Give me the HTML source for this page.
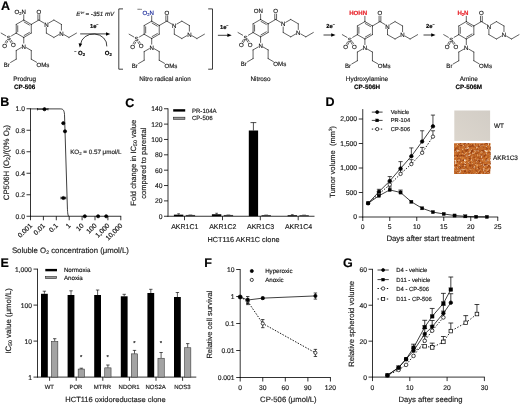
<!DOCTYPE html>
<html lang="en">
<head>
<meta charset="utf-8">
<title>CP-506 figure</title>
<style>
html,body{margin:0;padding:0;background:#fff;}
body{width:520px;height:404px;overflow:hidden;}
svg{display:block;text-rendering:geometricPrecision;font-family:"Liberation Sans",sans-serif;}
</style>
</head>
<body>
<svg width="520" height="404" viewBox="0 0 520 404">
<defs>
<linearGradient id="wtg" x1="1" y1="0" x2="0" y2="1"><stop offset="0" stop-color="#d2cdc6"/><stop offset="1" stop-color="#dcd6cd"/></linearGradient>
<filter id="ihc" x="0" y="0" width="100%" height="100%" color-interpolation-filters="sRGB">
<feTurbulence type="fractalNoise" baseFrequency="0.42" numOctaves="3" seed="11" result="n"/>
<feColorMatrix in="n" type="matrix" values="0 0 0 0 0.97  0 0 0 0 0.90  0 0 0 0 0.82  3.2 0 0 0 -1.8" result="lt"/>
<feColorMatrix in="n" type="matrix" values="0 0 0 0 0.58  0 0 0 0 0.24  0 0 0 0 0.07  0 3.0 0 0 -1.3" result="dk"/>
<feColorMatrix in="n" type="matrix" values="0 0 0 0 0.85  0 0 0 0 0.52  0 0 0 0 0.22  0 0 3 0 -1.35" result="md"/>
<feMerge><feMergeNode in="SourceGraphic"/><feMergeNode in="md"/><feMergeNode in="dk"/><feMergeNode in="lt"/></feMerge>
</filter>
</defs>
<rect x="0" y="0" width="520" height="404" fill="#ffffff"/>
<text x="0.9" y="9.57" font-size="12.5" text-anchor="start" fill="#000" stroke="#000" stroke-width="0.16" font-weight="bold">A</text>
<line x1="23.75" y1="20.05" x2="31.28" y2="24.4" stroke="#000" stroke-width="0.62" stroke-linecap="round"/>
<line x1="31.28" y1="24.4" x2="31.28" y2="33.1" stroke="#000" stroke-width="0.62" stroke-linecap="round"/>
<line x1="31.28" y1="33.1" x2="23.75" y2="37.45" stroke="#000" stroke-width="0.62" stroke-linecap="round"/>
<line x1="23.75" y1="37.45" x2="16.22" y2="33.1" stroke="#000" stroke-width="0.62" stroke-linecap="round"/>
<line x1="16.22" y1="33.1" x2="16.22" y2="24.4" stroke="#000" stroke-width="0.62" stroke-linecap="round"/>
<line x1="16.22" y1="24.4" x2="23.75" y2="20.05" stroke="#000" stroke-width="0.62" stroke-linecap="round"/>
<line x1="24.13" y1="22" x2="29.41" y2="25.05" stroke="#000" stroke-width="0.62" stroke-linecap="round"/>
<line x1="29.41" y1="32.45" x2="24.13" y2="35.5" stroke="#000" stroke-width="0.62" stroke-linecap="round"/>
<line x1="17.72" y1="31.8" x2="17.72" y2="25.7" stroke="#000" stroke-width="0.62" stroke-linecap="round"/>
<line x1="23.75" y1="20.05" x2="23.75" y2="14.75" stroke="#000" stroke-width="0.62" stroke-linecap="round"/>
<text x="25.95" y="13.83" font-size="6.1" text-anchor="end" fill="#1a1a1a" stroke="#1a1a1a" stroke-width="0.16">O<tspan font-size="4.15" baseline-shift="-0.98">2</tspan>N</text>
<line x1="31.28" y1="24.4" x2="38.82" y2="20.05" stroke="#000" stroke-width="0.62" stroke-linecap="round"/>
<line x1="37.92" y1="20.05" x2="37.92" y2="14.65" stroke="#000" stroke-width="0.62" stroke-linecap="round"/>
<line x1="39.72" y1="20.05" x2="39.72" y2="14.65" stroke="#000" stroke-width="0.62" stroke-linecap="round"/>
<text x="38.82" y="13.73" font-size="6.1" text-anchor="middle" fill="#1a1a1a" stroke="#1a1a1a" stroke-width="0.16">O</text>
<line x1="38.82" y1="20.05" x2="43.84" y2="22.95" stroke="#000" stroke-width="0.62" stroke-linecap="round"/>
<text x="46.35" y="27.08" font-size="6.1" text-anchor="middle" fill="#1a1a1a" stroke="#1a1a1a" stroke-width="0.16">N</text>
<line x1="48.86" y1="22.95" x2="53.89" y2="20.05" stroke="#000" stroke-width="0.62" stroke-linecap="round"/>
<line x1="53.89" y1="20.05" x2="61.42" y2="24.4" stroke="#000" stroke-width="0.62" stroke-linecap="round"/>
<line x1="61.42" y1="24.4" x2="61.42" y2="30.1" stroke="#000" stroke-width="0.62" stroke-linecap="round"/>
<line x1="58.91" y1="34.55" x2="53.89" y2="37.45" stroke="#000" stroke-width="0.62" stroke-linecap="round"/>
<line x1="53.89" y1="37.45" x2="46.35" y2="33.1" stroke="#000" stroke-width="0.62" stroke-linecap="round"/>
<line x1="46.35" y1="33.1" x2="46.35" y2="27.6" stroke="#000" stroke-width="0.62" stroke-linecap="round"/>
<text x="61.42" y="35.78" font-size="6.1" text-anchor="middle" fill="#1a1a1a" stroke="#1a1a1a" stroke-width="0.16">N</text>
<line x1="63.93" y1="34.55" x2="68.96" y2="37.45" stroke="#000" stroke-width="0.62" stroke-linecap="round"/>
<line x1="68.96" y1="37.45" x2="76.49" y2="33.1" stroke="#000" stroke-width="0.62" stroke-linecap="round"/>
<line x1="16.22" y1="33.1" x2="11.54" y2="35.8" stroke="#000" stroke-width="0.62" stroke-linecap="round"/>
<text x="8.68" y="40.13" font-size="6.1" text-anchor="middle" fill="#1a1a1a" stroke="#1a1a1a" stroke-width="0.16">S</text>
<line x1="5.82" y1="35.8" x2="1.15" y2="33.1" stroke="#000" stroke-width="0.62" stroke-linecap="round"/>
<line x1="7.7" y1="41.09" x2="6.68" y2="43.12" stroke="#000" stroke-width="0.62" stroke-linecap="round"/>
<line x1="6.36" y1="40.42" x2="5.34" y2="42.45" stroke="#000" stroke-width="0.62" stroke-linecap="round"/>
<line x1="11.22" y1="40.24" x2="12.28" y2="42.02" stroke="#000" stroke-width="0.62" stroke-linecap="round"/>
<line x1="9.93" y1="41.01" x2="11" y2="42.79" stroke="#000" stroke-width="0.62" stroke-linecap="round"/>
<text x="4.58" y="47.83" font-size="6.1" text-anchor="middle" fill="#1a1a1a" stroke="#1a1a1a" stroke-width="0.16">O</text>
<text x="13.28" y="47.33" font-size="6.1" text-anchor="middle" fill="#1a1a1a" stroke="#1a1a1a" stroke-width="0.16">O</text>
<line x1="23.75" y1="37.45" x2="23.75" y2="43.05" stroke="#000" stroke-width="0.62" stroke-linecap="round"/>
<text x="23.75" y="48.93" font-size="6.1" text-anchor="middle" fill="#1a1a1a" stroke="#1a1a1a" stroke-width="0.16">N</text>
<line x1="21.33" y1="47.55" x2="16.22" y2="50.5" stroke="#000" stroke-width="0.62" stroke-linecap="round"/>
<line x1="16.22" y1="50.5" x2="16.22" y2="59.2" stroke="#000" stroke-width="0.62" stroke-linecap="round"/>
<line x1="16.22" y1="59.2" x2="10.59" y2="62.45" stroke="#000" stroke-width="0.62" stroke-linecap="round"/>
<text x="9.88" y="66.93" font-size="6.1" text-anchor="end" fill="#1a1a1a" stroke="#1a1a1a" stroke-width="0.16">Br</text>
<line x1="26.17" y1="47.55" x2="31.28" y2="50.5" stroke="#000" stroke-width="0.62" stroke-linecap="round"/>
<line x1="31.28" y1="50.5" x2="31.28" y2="59.2" stroke="#000" stroke-width="0.62" stroke-linecap="round"/>
<line x1="31.28" y1="59.2" x2="36.57" y2="62.25" stroke="#000" stroke-width="0.62" stroke-linecap="round"/>
<text x="36.52" y="66.93" font-size="6.1" text-anchor="start" fill="#1a1a1a" stroke="#1a1a1a" stroke-width="0.16">OMs</text>
<line x1="151.7" y1="21.15" x2="159.23" y2="25.5" stroke="#000" stroke-width="0.62" stroke-linecap="round"/>
<line x1="159.23" y1="25.5" x2="159.23" y2="34.2" stroke="#000" stroke-width="0.62" stroke-linecap="round"/>
<line x1="159.23" y1="34.2" x2="151.7" y2="38.55" stroke="#000" stroke-width="0.62" stroke-linecap="round"/>
<line x1="151.7" y1="38.55" x2="144.17" y2="34.2" stroke="#000" stroke-width="0.62" stroke-linecap="round"/>
<line x1="144.17" y1="34.2" x2="144.17" y2="25.5" stroke="#000" stroke-width="0.62" stroke-linecap="round"/>
<line x1="144.17" y1="25.5" x2="151.7" y2="21.15" stroke="#000" stroke-width="0.62" stroke-linecap="round"/>
<line x1="152.08" y1="23.1" x2="157.36" y2="26.15" stroke="#000" stroke-width="0.62" stroke-linecap="round"/>
<line x1="157.36" y1="33.55" x2="152.08" y2="36.6" stroke="#000" stroke-width="0.62" stroke-linecap="round"/>
<line x1="145.67" y1="32.9" x2="145.67" y2="26.8" stroke="#000" stroke-width="0.62" stroke-linecap="round"/>
<line x1="151.7" y1="21.15" x2="151.7" y2="15.85" stroke="#000" stroke-width="0.62" stroke-linecap="round"/>
<text x="153.9" y="14.93" font-size="6.1" text-anchor="end" fill="#1f2f9c" stroke="#1f2f9c" stroke-width="0.16">O<tspan font-size="4.15" baseline-shift="-0.98">2</tspan>N</text>
<line x1="137.4" y1="9.25" x2="140.5" y2="9.25" stroke="#222" stroke-width="0.6" stroke-linecap="butt"/>
<circle cx="141.1" cy="9.25" r="0.5" fill="#222" stroke="none" stroke-width="0"/>
<line x1="159.23" y1="25.5" x2="166.77" y2="21.15" stroke="#000" stroke-width="0.62" stroke-linecap="round"/>
<line x1="165.87" y1="21.15" x2="165.87" y2="15.75" stroke="#000" stroke-width="0.62" stroke-linecap="round"/>
<line x1="167.67" y1="21.15" x2="167.67" y2="15.75" stroke="#000" stroke-width="0.62" stroke-linecap="round"/>
<text x="166.77" y="14.83" font-size="6.1" text-anchor="middle" fill="#1a1a1a" stroke="#1a1a1a" stroke-width="0.16">O</text>
<line x1="166.77" y1="21.15" x2="171.79" y2="24.05" stroke="#000" stroke-width="0.62" stroke-linecap="round"/>
<text x="174.3" y="28.18" font-size="6.1" text-anchor="middle" fill="#1a1a1a" stroke="#1a1a1a" stroke-width="0.16">N</text>
<line x1="176.81" y1="24.05" x2="181.84" y2="21.15" stroke="#000" stroke-width="0.62" stroke-linecap="round"/>
<line x1="181.84" y1="21.15" x2="189.37" y2="25.5" stroke="#000" stroke-width="0.62" stroke-linecap="round"/>
<line x1="189.37" y1="25.5" x2="189.37" y2="31.2" stroke="#000" stroke-width="0.62" stroke-linecap="round"/>
<line x1="186.86" y1="35.65" x2="181.84" y2="38.55" stroke="#000" stroke-width="0.62" stroke-linecap="round"/>
<line x1="181.84" y1="38.55" x2="174.3" y2="34.2" stroke="#000" stroke-width="0.62" stroke-linecap="round"/>
<line x1="174.3" y1="34.2" x2="174.3" y2="28.7" stroke="#000" stroke-width="0.62" stroke-linecap="round"/>
<text x="189.37" y="36.88" font-size="6.1" text-anchor="middle" fill="#1a1a1a" stroke="#1a1a1a" stroke-width="0.16">N</text>
<line x1="191.88" y1="35.65" x2="196.91" y2="38.55" stroke="#000" stroke-width="0.62" stroke-linecap="round"/>
<line x1="196.91" y1="38.55" x2="204.44" y2="34.2" stroke="#000" stroke-width="0.62" stroke-linecap="round"/>
<line x1="144.17" y1="34.2" x2="139.49" y2="36.9" stroke="#000" stroke-width="0.62" stroke-linecap="round"/>
<text x="136.63" y="41.23" font-size="6.1" text-anchor="middle" fill="#1a1a1a" stroke="#1a1a1a" stroke-width="0.16">S</text>
<line x1="133.77" y1="36.9" x2="129.1" y2="34.2" stroke="#000" stroke-width="0.62" stroke-linecap="round"/>
<line x1="135.65" y1="42.19" x2="134.63" y2="44.22" stroke="#000" stroke-width="0.62" stroke-linecap="round"/>
<line x1="134.31" y1="41.52" x2="133.29" y2="43.55" stroke="#000" stroke-width="0.62" stroke-linecap="round"/>
<line x1="139.17" y1="41.34" x2="140.23" y2="43.12" stroke="#000" stroke-width="0.62" stroke-linecap="round"/>
<line x1="137.88" y1="42.11" x2="138.95" y2="43.89" stroke="#000" stroke-width="0.62" stroke-linecap="round"/>
<text x="132.53" y="48.93" font-size="6.1" text-anchor="middle" fill="#1a1a1a" stroke="#1a1a1a" stroke-width="0.16">O</text>
<text x="141.23" y="48.43" font-size="6.1" text-anchor="middle" fill="#1a1a1a" stroke="#1a1a1a" stroke-width="0.16">O</text>
<line x1="151.7" y1="38.55" x2="151.7" y2="44.15" stroke="#000" stroke-width="0.62" stroke-linecap="round"/>
<text x="151.7" y="50.03" font-size="6.1" text-anchor="middle" fill="#1a1a1a" stroke="#1a1a1a" stroke-width="0.16">N</text>
<line x1="149.28" y1="48.65" x2="144.17" y2="51.6" stroke="#000" stroke-width="0.62" stroke-linecap="round"/>
<line x1="144.17" y1="51.6" x2="144.17" y2="60.3" stroke="#000" stroke-width="0.62" stroke-linecap="round"/>
<line x1="144.17" y1="60.3" x2="138.54" y2="63.55" stroke="#000" stroke-width="0.62" stroke-linecap="round"/>
<text x="137.83" y="68.03" font-size="6.1" text-anchor="end" fill="#1a1a1a" stroke="#1a1a1a" stroke-width="0.16">Br</text>
<line x1="154.12" y1="48.65" x2="159.23" y2="51.6" stroke="#000" stroke-width="0.62" stroke-linecap="round"/>
<line x1="159.23" y1="51.6" x2="159.23" y2="60.3" stroke="#000" stroke-width="0.62" stroke-linecap="round"/>
<line x1="159.23" y1="60.3" x2="164.52" y2="63.35" stroke="#000" stroke-width="0.62" stroke-linecap="round"/>
<text x="164.47" y="68.03" font-size="6.1" text-anchor="start" fill="#1a1a1a" stroke="#1a1a1a" stroke-width="0.16">OMs</text>
<line x1="260.6" y1="19.45" x2="268.13" y2="23.8" stroke="#000" stroke-width="0.62" stroke-linecap="round"/>
<line x1="268.13" y1="23.8" x2="268.13" y2="32.5" stroke="#000" stroke-width="0.62" stroke-linecap="round"/>
<line x1="268.13" y1="32.5" x2="260.6" y2="36.85" stroke="#000" stroke-width="0.62" stroke-linecap="round"/>
<line x1="260.6" y1="36.85" x2="253.07" y2="32.5" stroke="#000" stroke-width="0.62" stroke-linecap="round"/>
<line x1="253.07" y1="32.5" x2="253.07" y2="23.8" stroke="#000" stroke-width="0.62" stroke-linecap="round"/>
<line x1="253.07" y1="23.8" x2="260.6" y2="19.45" stroke="#000" stroke-width="0.62" stroke-linecap="round"/>
<line x1="260.98" y1="21.4" x2="266.26" y2="24.45" stroke="#000" stroke-width="0.62" stroke-linecap="round"/>
<line x1="266.26" y1="31.85" x2="260.98" y2="34.9" stroke="#000" stroke-width="0.62" stroke-linecap="round"/>
<line x1="254.57" y1="31.2" x2="254.57" y2="25.1" stroke="#000" stroke-width="0.62" stroke-linecap="round"/>
<line x1="260.6" y1="19.45" x2="260.6" y2="14.15" stroke="#000" stroke-width="0.62" stroke-linecap="round"/>
<text x="262.8" y="13.23" font-size="6.1" text-anchor="end" fill="#1a1a1a" stroke="#1a1a1a" stroke-width="0.16">ON</text>
<line x1="268.13" y1="23.8" x2="275.67" y2="19.45" stroke="#000" stroke-width="0.62" stroke-linecap="round"/>
<line x1="274.77" y1="19.45" x2="274.77" y2="14.05" stroke="#000" stroke-width="0.62" stroke-linecap="round"/>
<line x1="276.57" y1="19.45" x2="276.57" y2="14.05" stroke="#000" stroke-width="0.62" stroke-linecap="round"/>
<text x="275.67" y="13.13" font-size="6.1" text-anchor="middle" fill="#1a1a1a" stroke="#1a1a1a" stroke-width="0.16">O</text>
<line x1="275.67" y1="19.45" x2="280.69" y2="22.35" stroke="#000" stroke-width="0.62" stroke-linecap="round"/>
<text x="283.2" y="26.48" font-size="6.1" text-anchor="middle" fill="#1a1a1a" stroke="#1a1a1a" stroke-width="0.16">N</text>
<line x1="285.71" y1="22.35" x2="290.74" y2="19.45" stroke="#000" stroke-width="0.62" stroke-linecap="round"/>
<line x1="290.74" y1="19.45" x2="298.27" y2="23.8" stroke="#000" stroke-width="0.62" stroke-linecap="round"/>
<line x1="298.27" y1="23.8" x2="298.27" y2="29.5" stroke="#000" stroke-width="0.62" stroke-linecap="round"/>
<line x1="295.76" y1="33.95" x2="290.74" y2="36.85" stroke="#000" stroke-width="0.62" stroke-linecap="round"/>
<line x1="290.74" y1="36.85" x2="283.2" y2="32.5" stroke="#000" stroke-width="0.62" stroke-linecap="round"/>
<line x1="283.2" y1="32.5" x2="283.2" y2="27" stroke="#000" stroke-width="0.62" stroke-linecap="round"/>
<text x="298.27" y="35.18" font-size="6.1" text-anchor="middle" fill="#1a1a1a" stroke="#1a1a1a" stroke-width="0.16">N</text>
<line x1="300.78" y1="33.95" x2="305.81" y2="36.85" stroke="#000" stroke-width="0.62" stroke-linecap="round"/>
<line x1="305.81" y1="36.85" x2="313.34" y2="32.5" stroke="#000" stroke-width="0.62" stroke-linecap="round"/>
<line x1="253.07" y1="32.5" x2="248.39" y2="35.2" stroke="#000" stroke-width="0.62" stroke-linecap="round"/>
<text x="245.53" y="39.53" font-size="6.1" text-anchor="middle" fill="#1a1a1a" stroke="#1a1a1a" stroke-width="0.16">S</text>
<line x1="242.67" y1="35.2" x2="238" y2="32.5" stroke="#000" stroke-width="0.62" stroke-linecap="round"/>
<line x1="244.55" y1="40.49" x2="243.53" y2="42.52" stroke="#000" stroke-width="0.62" stroke-linecap="round"/>
<line x1="243.21" y1="39.82" x2="242.19" y2="41.85" stroke="#000" stroke-width="0.62" stroke-linecap="round"/>
<line x1="248.07" y1="39.64" x2="249.13" y2="41.42" stroke="#000" stroke-width="0.62" stroke-linecap="round"/>
<line x1="246.78" y1="40.41" x2="247.85" y2="42.19" stroke="#000" stroke-width="0.62" stroke-linecap="round"/>
<text x="241.43" y="47.23" font-size="6.1" text-anchor="middle" fill="#1a1a1a" stroke="#1a1a1a" stroke-width="0.16">O</text>
<text x="250.13" y="46.73" font-size="6.1" text-anchor="middle" fill="#1a1a1a" stroke="#1a1a1a" stroke-width="0.16">O</text>
<line x1="260.6" y1="36.85" x2="260.6" y2="42.45" stroke="#000" stroke-width="0.62" stroke-linecap="round"/>
<text x="260.6" y="48.33" font-size="6.1" text-anchor="middle" fill="#1a1a1a" stroke="#1a1a1a" stroke-width="0.16">N</text>
<line x1="258.18" y1="46.95" x2="253.07" y2="49.9" stroke="#000" stroke-width="0.62" stroke-linecap="round"/>
<line x1="253.07" y1="49.9" x2="253.07" y2="58.6" stroke="#000" stroke-width="0.62" stroke-linecap="round"/>
<line x1="253.07" y1="58.6" x2="247.44" y2="61.85" stroke="#000" stroke-width="0.62" stroke-linecap="round"/>
<text x="246.73" y="66.33" font-size="6.1" text-anchor="end" fill="#1a1a1a" stroke="#1a1a1a" stroke-width="0.16">Br</text>
<line x1="263.02" y1="46.95" x2="268.13" y2="49.9" stroke="#000" stroke-width="0.62" stroke-linecap="round"/>
<line x1="268.13" y1="49.9" x2="268.13" y2="58.6" stroke="#000" stroke-width="0.62" stroke-linecap="round"/>
<line x1="268.13" y1="58.6" x2="273.42" y2="61.65" stroke="#000" stroke-width="0.62" stroke-linecap="round"/>
<text x="273.37" y="66.33" font-size="6.1" text-anchor="start" fill="#1a1a1a" stroke="#1a1a1a" stroke-width="0.16">OMs</text>
<line x1="364.9" y1="21.6" x2="372.43" y2="25.95" stroke="#000" stroke-width="0.62" stroke-linecap="round"/>
<line x1="372.43" y1="25.95" x2="372.43" y2="34.65" stroke="#000" stroke-width="0.62" stroke-linecap="round"/>
<line x1="372.43" y1="34.65" x2="364.9" y2="39" stroke="#000" stroke-width="0.62" stroke-linecap="round"/>
<line x1="364.9" y1="39" x2="357.37" y2="34.65" stroke="#000" stroke-width="0.62" stroke-linecap="round"/>
<line x1="357.37" y1="34.65" x2="357.37" y2="25.95" stroke="#000" stroke-width="0.62" stroke-linecap="round"/>
<line x1="357.37" y1="25.95" x2="364.9" y2="21.6" stroke="#000" stroke-width="0.62" stroke-linecap="round"/>
<line x1="365.28" y1="23.55" x2="370.56" y2="26.6" stroke="#000" stroke-width="0.62" stroke-linecap="round"/>
<line x1="370.56" y1="34" x2="365.28" y2="37.05" stroke="#000" stroke-width="0.62" stroke-linecap="round"/>
<line x1="358.87" y1="33.35" x2="358.87" y2="27.25" stroke="#000" stroke-width="0.62" stroke-linecap="round"/>
<line x1="364.9" y1="21.6" x2="364.9" y2="16.3" stroke="#000" stroke-width="0.62" stroke-linecap="round"/>
<text x="367.1" y="15.38" font-size="6.1" text-anchor="end" fill="#e8232a" stroke="#e8232a" stroke-width="0.16" font-weight="bold">HOHN</text>
<line x1="372.43" y1="25.95" x2="379.97" y2="21.6" stroke="#000" stroke-width="0.62" stroke-linecap="round"/>
<line x1="379.07" y1="21.6" x2="379.07" y2="16.2" stroke="#000" stroke-width="0.62" stroke-linecap="round"/>
<line x1="380.87" y1="21.6" x2="380.87" y2="16.2" stroke="#000" stroke-width="0.62" stroke-linecap="round"/>
<text x="379.97" y="15.28" font-size="6.1" text-anchor="middle" fill="#1a1a1a" stroke="#1a1a1a" stroke-width="0.16">O</text>
<line x1="379.97" y1="21.6" x2="384.99" y2="24.5" stroke="#000" stroke-width="0.62" stroke-linecap="round"/>
<text x="387.5" y="28.63" font-size="6.1" text-anchor="middle" fill="#1a1a1a" stroke="#1a1a1a" stroke-width="0.16">N</text>
<line x1="390.01" y1="24.5" x2="395.04" y2="21.6" stroke="#000" stroke-width="0.62" stroke-linecap="round"/>
<line x1="395.04" y1="21.6" x2="402.57" y2="25.95" stroke="#000" stroke-width="0.62" stroke-linecap="round"/>
<line x1="402.57" y1="25.95" x2="402.57" y2="31.65" stroke="#000" stroke-width="0.62" stroke-linecap="round"/>
<line x1="400.06" y1="36.1" x2="395.04" y2="39" stroke="#000" stroke-width="0.62" stroke-linecap="round"/>
<line x1="395.04" y1="39" x2="387.5" y2="34.65" stroke="#000" stroke-width="0.62" stroke-linecap="round"/>
<line x1="387.5" y1="34.65" x2="387.5" y2="29.15" stroke="#000" stroke-width="0.62" stroke-linecap="round"/>
<text x="402.57" y="37.33" font-size="6.1" text-anchor="middle" fill="#1a1a1a" stroke="#1a1a1a" stroke-width="0.16">N</text>
<line x1="405.08" y1="36.1" x2="410.11" y2="39" stroke="#000" stroke-width="0.62" stroke-linecap="round"/>
<line x1="410.11" y1="39" x2="417.64" y2="34.65" stroke="#000" stroke-width="0.62" stroke-linecap="round"/>
<line x1="357.37" y1="34.65" x2="352.69" y2="37.35" stroke="#000" stroke-width="0.62" stroke-linecap="round"/>
<text x="349.83" y="41.68" font-size="6.1" text-anchor="middle" fill="#1a1a1a" stroke="#1a1a1a" stroke-width="0.16">S</text>
<line x1="346.97" y1="37.35" x2="342.3" y2="34.65" stroke="#000" stroke-width="0.62" stroke-linecap="round"/>
<line x1="348.85" y1="42.64" x2="347.83" y2="44.67" stroke="#000" stroke-width="0.62" stroke-linecap="round"/>
<line x1="347.51" y1="41.97" x2="346.49" y2="44" stroke="#000" stroke-width="0.62" stroke-linecap="round"/>
<line x1="352.37" y1="41.79" x2="353.43" y2="43.57" stroke="#000" stroke-width="0.62" stroke-linecap="round"/>
<line x1="351.08" y1="42.56" x2="352.15" y2="44.34" stroke="#000" stroke-width="0.62" stroke-linecap="round"/>
<text x="345.73" y="49.38" font-size="6.1" text-anchor="middle" fill="#1a1a1a" stroke="#1a1a1a" stroke-width="0.16">O</text>
<text x="354.43" y="48.88" font-size="6.1" text-anchor="middle" fill="#1a1a1a" stroke="#1a1a1a" stroke-width="0.16">O</text>
<line x1="364.9" y1="39" x2="364.9" y2="44.6" stroke="#000" stroke-width="0.62" stroke-linecap="round"/>
<text x="364.9" y="50.48" font-size="6.1" text-anchor="middle" fill="#1a1a1a" stroke="#1a1a1a" stroke-width="0.16">N</text>
<line x1="362.48" y1="49.1" x2="357.37" y2="52.05" stroke="#000" stroke-width="0.62" stroke-linecap="round"/>
<line x1="357.37" y1="52.05" x2="357.37" y2="60.75" stroke="#000" stroke-width="0.62" stroke-linecap="round"/>
<line x1="357.37" y1="60.75" x2="351.74" y2="64" stroke="#000" stroke-width="0.62" stroke-linecap="round"/>
<text x="351.03" y="68.48" font-size="6.1" text-anchor="end" fill="#1a1a1a" stroke="#1a1a1a" stroke-width="0.16">Br</text>
<line x1="367.32" y1="49.1" x2="372.43" y2="52.05" stroke="#000" stroke-width="0.62" stroke-linecap="round"/>
<line x1="372.43" y1="52.05" x2="372.43" y2="60.75" stroke="#000" stroke-width="0.62" stroke-linecap="round"/>
<line x1="372.43" y1="60.75" x2="377.72" y2="63.8" stroke="#000" stroke-width="0.62" stroke-linecap="round"/>
<text x="377.67" y="68.48" font-size="6.1" text-anchor="start" fill="#1a1a1a" stroke="#1a1a1a" stroke-width="0.16">OMs</text>
<line x1="466.3" y1="21.6" x2="473.83" y2="25.95" stroke="#000" stroke-width="0.62" stroke-linecap="round"/>
<line x1="473.83" y1="25.95" x2="473.83" y2="34.65" stroke="#000" stroke-width="0.62" stroke-linecap="round"/>
<line x1="473.83" y1="34.65" x2="466.3" y2="39" stroke="#000" stroke-width="0.62" stroke-linecap="round"/>
<line x1="466.3" y1="39" x2="458.77" y2="34.65" stroke="#000" stroke-width="0.62" stroke-linecap="round"/>
<line x1="458.77" y1="34.65" x2="458.77" y2="25.95" stroke="#000" stroke-width="0.62" stroke-linecap="round"/>
<line x1="458.77" y1="25.95" x2="466.3" y2="21.6" stroke="#000" stroke-width="0.62" stroke-linecap="round"/>
<line x1="466.68" y1="23.55" x2="471.96" y2="26.6" stroke="#000" stroke-width="0.62" stroke-linecap="round"/>
<line x1="471.96" y1="34" x2="466.68" y2="37.05" stroke="#000" stroke-width="0.62" stroke-linecap="round"/>
<line x1="460.27" y1="33.35" x2="460.27" y2="27.25" stroke="#000" stroke-width="0.62" stroke-linecap="round"/>
<line x1="466.3" y1="21.6" x2="466.3" y2="16.3" stroke="#000" stroke-width="0.62" stroke-linecap="round"/>
<text x="468.5" y="15.38" font-size="6.1" text-anchor="end" fill="#e8232a" stroke="#e8232a" stroke-width="0.16" font-weight="bold">H<tspan font-size="4.15" baseline-shift="-0.98">2</tspan>N</text>
<line x1="473.83" y1="25.95" x2="481.37" y2="21.6" stroke="#000" stroke-width="0.62" stroke-linecap="round"/>
<line x1="480.47" y1="21.6" x2="480.47" y2="16.2" stroke="#000" stroke-width="0.62" stroke-linecap="round"/>
<line x1="482.27" y1="21.6" x2="482.27" y2="16.2" stroke="#000" stroke-width="0.62" stroke-linecap="round"/>
<text x="481.37" y="15.28" font-size="6.1" text-anchor="middle" fill="#1a1a1a" stroke="#1a1a1a" stroke-width="0.16">O</text>
<line x1="481.37" y1="21.6" x2="486.39" y2="24.5" stroke="#000" stroke-width="0.62" stroke-linecap="round"/>
<text x="488.9" y="28.63" font-size="6.1" text-anchor="middle" fill="#1a1a1a" stroke="#1a1a1a" stroke-width="0.16">N</text>
<line x1="491.41" y1="24.5" x2="496.44" y2="21.6" stroke="#000" stroke-width="0.62" stroke-linecap="round"/>
<line x1="496.44" y1="21.6" x2="503.97" y2="25.95" stroke="#000" stroke-width="0.62" stroke-linecap="round"/>
<line x1="503.97" y1="25.95" x2="503.97" y2="31.65" stroke="#000" stroke-width="0.62" stroke-linecap="round"/>
<line x1="501.46" y1="36.1" x2="496.44" y2="39" stroke="#000" stroke-width="0.62" stroke-linecap="round"/>
<line x1="496.44" y1="39" x2="488.9" y2="34.65" stroke="#000" stroke-width="0.62" stroke-linecap="round"/>
<line x1="488.9" y1="34.65" x2="488.9" y2="29.15" stroke="#000" stroke-width="0.62" stroke-linecap="round"/>
<text x="503.97" y="37.33" font-size="6.1" text-anchor="middle" fill="#1a1a1a" stroke="#1a1a1a" stroke-width="0.16">N</text>
<line x1="506.48" y1="36.1" x2="511.51" y2="39" stroke="#000" stroke-width="0.62" stroke-linecap="round"/>
<line x1="511.51" y1="39" x2="519.04" y2="34.65" stroke="#000" stroke-width="0.62" stroke-linecap="round"/>
<line x1="458.77" y1="34.65" x2="454.09" y2="37.35" stroke="#000" stroke-width="0.62" stroke-linecap="round"/>
<text x="451.23" y="41.68" font-size="6.1" text-anchor="middle" fill="#1a1a1a" stroke="#1a1a1a" stroke-width="0.16">S</text>
<line x1="448.37" y1="37.35" x2="443.7" y2="34.65" stroke="#000" stroke-width="0.62" stroke-linecap="round"/>
<line x1="450.25" y1="42.64" x2="449.23" y2="44.67" stroke="#000" stroke-width="0.62" stroke-linecap="round"/>
<line x1="448.91" y1="41.97" x2="447.89" y2="44" stroke="#000" stroke-width="0.62" stroke-linecap="round"/>
<line x1="453.77" y1="41.79" x2="454.83" y2="43.57" stroke="#000" stroke-width="0.62" stroke-linecap="round"/>
<line x1="452.48" y1="42.56" x2="453.55" y2="44.34" stroke="#000" stroke-width="0.62" stroke-linecap="round"/>
<text x="447.13" y="49.38" font-size="6.1" text-anchor="middle" fill="#1a1a1a" stroke="#1a1a1a" stroke-width="0.16">O</text>
<text x="455.83" y="48.88" font-size="6.1" text-anchor="middle" fill="#1a1a1a" stroke="#1a1a1a" stroke-width="0.16">O</text>
<line x1="466.3" y1="39" x2="466.3" y2="44.6" stroke="#000" stroke-width="0.62" stroke-linecap="round"/>
<text x="466.3" y="50.48" font-size="6.1" text-anchor="middle" fill="#1a1a1a" stroke="#1a1a1a" stroke-width="0.16">N</text>
<line x1="463.88" y1="49.1" x2="458.77" y2="52.05" stroke="#000" stroke-width="0.62" stroke-linecap="round"/>
<line x1="458.77" y1="52.05" x2="458.77" y2="60.75" stroke="#000" stroke-width="0.62" stroke-linecap="round"/>
<line x1="458.77" y1="60.75" x2="453.14" y2="64" stroke="#000" stroke-width="0.62" stroke-linecap="round"/>
<text x="452.43" y="68.48" font-size="6.1" text-anchor="end" fill="#1a1a1a" stroke="#1a1a1a" stroke-width="0.16">Br</text>
<line x1="468.72" y1="49.1" x2="473.83" y2="52.05" stroke="#000" stroke-width="0.62" stroke-linecap="round"/>
<line x1="473.83" y1="52.05" x2="473.83" y2="60.75" stroke="#000" stroke-width="0.62" stroke-linecap="round"/>
<line x1="473.83" y1="60.75" x2="479.12" y2="63.8" stroke="#000" stroke-width="0.62" stroke-linecap="round"/>
<text x="479.07" y="68.48" font-size="6.1" text-anchor="start" fill="#1a1a1a" stroke="#1a1a1a" stroke-width="0.16">OMs</text>
<text x="24.7" y="81.09" font-size="6.4" text-anchor="middle" fill="#1a1a1a" stroke="#1a1a1a" stroke-width="0.16">Prodrug</text>
<text x="24.7" y="89.46" font-size="6.3" text-anchor="middle" fill="#000" stroke="#000" stroke-width="0.16" font-weight="bold">CP-506</text>
<text x="165" y="81.09" font-size="6.4" text-anchor="middle" fill="#1a1a1a" stroke="#1a1a1a" stroke-width="0.16">Nitro radical anion</text>
<text x="260.5" y="81.09" font-size="6.4" text-anchor="middle" fill="#1a1a1a" stroke="#1a1a1a" stroke-width="0.16">Nitroso</text>
<text x="367" y="80.99" font-size="6.4" text-anchor="middle" fill="#1a1a1a" stroke="#1a1a1a" stroke-width="0.16">Hydroxylamine</text>
<text x="367" y="89.16" font-size="6.3" text-anchor="middle" fill="#000" stroke="#000" stroke-width="0.16" font-weight="bold">CP-506H</text>
<text x="468.7" y="80.99" font-size="6.4" text-anchor="middle" fill="#1a1a1a" stroke="#1a1a1a" stroke-width="0.16">Amine</text>
<text x="468.7" y="89.16" font-size="6.3" text-anchor="middle" fill="#000" stroke="#000" stroke-width="0.16" font-weight="bold">CP-506M</text>
<text x="95.2" y="16.12" font-size="6.2" text-anchor="middle" fill="#1a1a1a" stroke="#1a1a1a" stroke-width="0.16" font-style="italic">E&#176;&#8217; = -351 mV</text>
<text x="94.2" y="28.38" font-size="5.8" text-anchor="middle" fill="#000" stroke="#000" stroke-width="0.16" font-weight="bold">1e<tspan font-size="3.6" baseline-shift="2.2">&#8722;</tspan></text>
<line x1="80.2" y1="33.9" x2="107.72" y2="33.9" stroke="#000" stroke-width="0.75" stroke-linecap="butt"/>
<polygon points="110.3,33.9 106,32.15 106,35.65" fill="#000"/>
<path d="M106.8 46.4 A13.2 11.6 0 0 0 80.5 44.4" fill="none" stroke="#000" stroke-width="0.75"/>
<polygon points="79.8,47.6 78.6,43.3 82.2,43.8" fill="#000"/>
<text x="79.6" y="54.75" font-size="6" text-anchor="middle" fill="#000" stroke="#000" stroke-width="0.16" font-weight="bold"><tspan font-size="3.72" baseline-shift="2.28">&#8722;</tspan> O<tspan font-size="4.08" baseline-shift="-0.96">2</tspan></text>
<text x="108.2" y="54.75" font-size="6" text-anchor="middle" fill="#000" stroke="#000" stroke-width="0.16" font-weight="bold">O<tspan font-size="4.08" baseline-shift="-0.96">2</tspan></text>
<polyline points="123,8.9 118.8,8.9 118.8,69.2 123,69.2" fill="none" stroke="#000" stroke-width="0.75" stroke-linejoin="round"/>
<polyline points="208.2,8.9 212.5,8.9 212.5,69.2 208.2,69.2" fill="none" stroke="#000" stroke-width="0.75" stroke-linejoin="round"/>
<text x="224.2" y="28.68" font-size="5.8" text-anchor="middle" fill="#000" stroke="#000" stroke-width="0.16" font-weight="bold">1e<tspan font-size="3.6" baseline-shift="2.2">&#8722;</tspan></text>
<line x1="217.9" y1="35.3" x2="229.12" y2="35.3" stroke="#000" stroke-width="0.75" stroke-linecap="butt"/>
<polygon points="231.7,35.3 227.4,33.55 227.4,37.05" fill="#000"/>
<text x="330.5" y="27.88" font-size="5.8" text-anchor="middle" fill="#000" stroke="#000" stroke-width="0.16" font-weight="bold">2e<tspan font-size="3.6" baseline-shift="2.2">&#8722;</tspan></text>
<line x1="323.5" y1="35" x2="332.92" y2="35" stroke="#000" stroke-width="0.75" stroke-linecap="butt"/>
<polygon points="335.5,35 331.2,33.25 331.2,36.75" fill="#000"/>
<text x="430.3" y="27.88" font-size="5.8" text-anchor="middle" fill="#000" stroke="#000" stroke-width="0.16" font-weight="bold">2e<tspan font-size="3.6" baseline-shift="2.2">&#8722;</tspan></text>
<line x1="423.5" y1="35" x2="432.92" y2="35" stroke="#000" stroke-width="0.75" stroke-linecap="butt"/>
<polygon points="435.5,35 431.2,33.25 431.2,36.75" fill="#000"/>
<text x="0.3" y="106.27" font-size="12.5" text-anchor="start" fill="#000" stroke="#000" stroke-width="0.16" font-weight="bold">B</text>
<line x1="30.5" y1="216.65" x2="30.5" y2="108.35" stroke="#000" stroke-width="0.8" stroke-linecap="butt"/>
<line x1="26.5" y1="216.25" x2="30.5" y2="216.25" stroke="#000" stroke-width="0.8" stroke-linecap="butt"/>
<text x="24.9" y="218.67" font-size="6.75" text-anchor="end" fill="#1a1a1a" stroke="#1a1a1a" stroke-width="0.16">0.0</text>
<line x1="26.5" y1="194.75" x2="30.5" y2="194.75" stroke="#000" stroke-width="0.8" stroke-linecap="butt"/>
<text x="24.9" y="197.17" font-size="6.75" text-anchor="end" fill="#1a1a1a" stroke="#1a1a1a" stroke-width="0.16">0.2</text>
<line x1="26.5" y1="173.25" x2="30.5" y2="173.25" stroke="#000" stroke-width="0.8" stroke-linecap="butt"/>
<text x="24.9" y="175.67" font-size="6.75" text-anchor="end" fill="#1a1a1a" stroke="#1a1a1a" stroke-width="0.16">0.4</text>
<line x1="26.5" y1="151.75" x2="30.5" y2="151.75" stroke="#000" stroke-width="0.8" stroke-linecap="butt"/>
<text x="24.9" y="154.17" font-size="6.75" text-anchor="end" fill="#1a1a1a" stroke="#1a1a1a" stroke-width="0.16">0.6</text>
<line x1="26.5" y1="130.25" x2="30.5" y2="130.25" stroke="#000" stroke-width="0.8" stroke-linecap="butt"/>
<text x="24.9" y="132.67" font-size="6.75" text-anchor="end" fill="#1a1a1a" stroke="#1a1a1a" stroke-width="0.16">0.8</text>
<line x1="26.5" y1="108.75" x2="30.5" y2="108.75" stroke="#000" stroke-width="0.8" stroke-linecap="butt"/>
<text x="24.9" y="111.17" font-size="6.75" text-anchor="end" fill="#1a1a1a" stroke="#1a1a1a" stroke-width="0.16">1.0</text>
<line x1="30.1" y1="216.25" x2="121.2" y2="216.25" stroke="#000" stroke-width="0.8" stroke-linecap="butt"/>
<line x1="30.5" y1="216.25" x2="30.5" y2="220.25" stroke="#000" stroke-width="0.8" stroke-linecap="butt"/>
<text x="31" y="226.75" font-size="6.75" text-anchor="end" fill="#1a1a1a" stroke="#1a1a1a" stroke-width="0.16" transform="rotate(-45 31 224.55)">0.001</text>
<line x1="43.4" y1="216.25" x2="43.4" y2="220.25" stroke="#000" stroke-width="0.8" stroke-linecap="butt"/>
<text x="43.9" y="226.75" font-size="6.75" text-anchor="end" fill="#1a1a1a" stroke="#1a1a1a" stroke-width="0.16" transform="rotate(-45 43.9 224.55)">0.01</text>
<line x1="56.3" y1="216.25" x2="56.3" y2="220.25" stroke="#000" stroke-width="0.8" stroke-linecap="butt"/>
<text x="56.8" y="226.75" font-size="6.75" text-anchor="end" fill="#1a1a1a" stroke="#1a1a1a" stroke-width="0.16" transform="rotate(-45 56.8 224.55)">0.1</text>
<line x1="69.2" y1="216.25" x2="69.2" y2="220.25" stroke="#000" stroke-width="0.8" stroke-linecap="butt"/>
<text x="69.7" y="226.75" font-size="6.75" text-anchor="end" fill="#1a1a1a" stroke="#1a1a1a" stroke-width="0.16" transform="rotate(-45 69.7 224.55)">1</text>
<line x1="82.1" y1="216.25" x2="82.1" y2="220.25" stroke="#000" stroke-width="0.8" stroke-linecap="butt"/>
<text x="82.6" y="226.75" font-size="6.75" text-anchor="end" fill="#1a1a1a" stroke="#1a1a1a" stroke-width="0.16" transform="rotate(-45 82.6 224.55)">10</text>
<line x1="95" y1="216.25" x2="95" y2="220.25" stroke="#000" stroke-width="0.8" stroke-linecap="butt"/>
<text x="95.5" y="226.75" font-size="6.75" text-anchor="end" fill="#1a1a1a" stroke="#1a1a1a" stroke-width="0.16" transform="rotate(-45 95.5 224.55)">100</text>
<line x1="107.9" y1="216.25" x2="107.9" y2="220.25" stroke="#000" stroke-width="0.8" stroke-linecap="butt"/>
<text x="108.4" y="226.75" font-size="6.75" text-anchor="end" fill="#1a1a1a" stroke="#1a1a1a" stroke-width="0.16" transform="rotate(-45 108.4 224.55)">1,000</text>
<line x1="120.8" y1="216.25" x2="120.8" y2="220.25" stroke="#000" stroke-width="0.8" stroke-linecap="butt"/>
<text x="121.3" y="226.75" font-size="6.75" text-anchor="end" fill="#1a1a1a" stroke="#1a1a1a" stroke-width="0.16" transform="rotate(-45 121.3 224.55)">10,000</text>
<path d="M30.5 108.9 L60.2 108.9 C62.8 108.9, 64.1 109.6, 64.5 114.5 L65.6 150 L67.4 208 C67.6 213, 67.9 216.25, 69 216.25" fill="none" stroke="#000" stroke-width="0.75"/>
<line x1="37.5" y1="109.2" x2="48" y2="109.2" stroke="#000" stroke-width="0.7" stroke-linecap="butt"/>
<line x1="37.5" y1="108" x2="37.5" y2="110.4" stroke="#000" stroke-width="0.7" stroke-linecap="butt"/>
<line x1="48" y1="108" x2="48" y2="110.4" stroke="#000" stroke-width="0.7" stroke-linecap="butt"/>
<circle cx="44.5" cy="109.2" r="1.6" fill="#000" stroke="#000" stroke-width="0.7"/>
<circle cx="63.3" cy="123.2" r="1.6" fill="#000" stroke="#000" stroke-width="0.7"/>
<circle cx="65" cy="131.3" r="1.6" fill="#000" stroke="#000" stroke-width="0.7"/>
<line x1="61" y1="198" x2="65.8" y2="198" stroke="#000" stroke-width="0.8" stroke-linecap="butt"/>
<line x1="61" y1="196.7" x2="61" y2="199.3" stroke="#000" stroke-width="0.8" stroke-linecap="butt"/>
<line x1="65.8" y1="196.7" x2="65.8" y2="199.3" stroke="#000" stroke-width="0.8" stroke-linecap="butt"/>
<circle cx="63.4" cy="198" r="1.6" fill="#000" stroke="#000" stroke-width="0.7"/>
<circle cx="84.8" cy="216.25" r="1.6" fill="#000" stroke="#000" stroke-width="0.7"/>
<circle cx="98.1" cy="216.25" r="1.6" fill="#000" stroke="#000" stroke-width="0.7"/>
<circle cx="106.2" cy="216.25" r="1.6" fill="#000" stroke="#000" stroke-width="0.7"/>
<text x="70.2" y="153.84" font-size="6.25" text-anchor="start" fill="#1a1a1a" stroke="#1a1a1a" stroke-width="0.16">KO<tspan font-size="4.25" baseline-shift="-1">2</tspan> = 0.57 &#956;mol/L</text>
<text x="5.9" y="165.29" font-size="7.8" text-anchor="middle" fill="#1a1a1a" stroke="#1a1a1a" stroke-width="0.16" transform="rotate(-90 5.9 162.5)">CP506H (O<tspan font-size="5.1" baseline-shift="-1.2">2</tspan>)/(0% O<tspan font-size="5.1" baseline-shift="-1.2">2</tspan>)</text>
<text x="70.4" y="252.79" font-size="7.8" text-anchor="middle" fill="#1a1a1a" stroke="#1a1a1a" stroke-width="0.16">Soluble O<tspan font-size="5.1" baseline-shift="-1.2">2</tspan> concentration (&#956;mol/L)</text>
<text x="125.2" y="107.07" font-size="12.5" text-anchor="start" fill="#000" stroke="#000" stroke-width="0.16" font-weight="bold">C</text>
<line x1="168" y1="216.65" x2="168" y2="108.35" stroke="#000" stroke-width="0.8" stroke-linecap="butt"/>
<line x1="164" y1="216.25" x2="168" y2="216.25" stroke="#000" stroke-width="0.8" stroke-linecap="butt"/>
<text x="162.4" y="218.67" font-size="6.75" text-anchor="end" fill="#1a1a1a" stroke="#1a1a1a" stroke-width="0.16">0</text>
<line x1="164" y1="200.89" x2="168" y2="200.89" stroke="#000" stroke-width="0.8" stroke-linecap="butt"/>
<text x="162.4" y="203.31" font-size="6.75" text-anchor="end" fill="#1a1a1a" stroke="#1a1a1a" stroke-width="0.16">20</text>
<line x1="164" y1="185.54" x2="168" y2="185.54" stroke="#000" stroke-width="0.8" stroke-linecap="butt"/>
<text x="162.4" y="187.95" font-size="6.75" text-anchor="end" fill="#1a1a1a" stroke="#1a1a1a" stroke-width="0.16">40</text>
<line x1="164" y1="170.18" x2="168" y2="170.18" stroke="#000" stroke-width="0.8" stroke-linecap="butt"/>
<text x="162.4" y="172.6" font-size="6.75" text-anchor="end" fill="#1a1a1a" stroke="#1a1a1a" stroke-width="0.16">60</text>
<line x1="164" y1="154.82" x2="168" y2="154.82" stroke="#000" stroke-width="0.8" stroke-linecap="butt"/>
<text x="162.4" y="157.24" font-size="6.75" text-anchor="end" fill="#1a1a1a" stroke="#1a1a1a" stroke-width="0.16">80</text>
<line x1="164" y1="139.46" x2="168" y2="139.46" stroke="#000" stroke-width="0.8" stroke-linecap="butt"/>
<text x="162.4" y="141.88" font-size="6.75" text-anchor="end" fill="#1a1a1a" stroke="#1a1a1a" stroke-width="0.16">100</text>
<line x1="164" y1="124.11" x2="168" y2="124.11" stroke="#000" stroke-width="0.8" stroke-linecap="butt"/>
<text x="162.4" y="126.52" font-size="6.75" text-anchor="end" fill="#1a1a1a" stroke="#1a1a1a" stroke-width="0.16">120</text>
<line x1="164" y1="108.75" x2="168" y2="108.75" stroke="#000" stroke-width="0.8" stroke-linecap="butt"/>
<text x="162.4" y="111.17" font-size="6.75" text-anchor="end" fill="#1a1a1a" stroke="#1a1a1a" stroke-width="0.16">140</text>
<line x1="167.6" y1="216.25" x2="314.5" y2="216.25" stroke="#000" stroke-width="0.8" stroke-linecap="butt"/>
<line x1="184.5" y1="216.25" x2="184.5" y2="220.25" stroke="#000" stroke-width="0.8" stroke-linecap="butt"/>
<text x="184.8" y="228.86" font-size="7" text-anchor="middle" fill="#1a1a1a" stroke="#1a1a1a" stroke-width="0.16">AKR1C1</text>
<line x1="222.5" y1="216.25" x2="222.5" y2="220.25" stroke="#000" stroke-width="0.8" stroke-linecap="butt"/>
<text x="222.8" y="228.86" font-size="7" text-anchor="middle" fill="#1a1a1a" stroke="#1a1a1a" stroke-width="0.16">AKR1C2</text>
<line x1="260.3" y1="216.25" x2="260.3" y2="220.25" stroke="#000" stroke-width="0.8" stroke-linecap="butt"/>
<text x="260.6" y="228.86" font-size="7" text-anchor="middle" fill="#1a1a1a" stroke="#1a1a1a" stroke-width="0.16">AKR1C3</text>
<line x1="298.2" y1="216.25" x2="298.2" y2="220.25" stroke="#000" stroke-width="0.8" stroke-linecap="butt"/>
<text x="298.5" y="228.86" font-size="7" text-anchor="middle" fill="#1a1a1a" stroke="#1a1a1a" stroke-width="0.16">AKR1C4</text>
<rect x="173.9" y="214.65" width="9.4" height="1.6" fill="#000"/>
<line x1="178.6" y1="214.65" x2="178.6" y2="213.75" stroke="#000" stroke-width="0.6" stroke-linecap="butt"/>
<line x1="177.2" y1="213.75" x2="180" y2="213.75" stroke="#000" stroke-width="0.6" stroke-linecap="butt"/>
<rect x="185.7" y="214.95" width="9.4" height="1.3" fill="#3a3a3a"/>
<line x1="188.52" y1="214.75" x2="192.28" y2="214.75" stroke="#333" stroke-width="0.5" stroke-linecap="butt"/>
<rect x="211.9" y="214.25" width="9.4" height="2" fill="#000"/>
<line x1="216.6" y1="214.25" x2="216.6" y2="213.25" stroke="#000" stroke-width="0.6" stroke-linecap="butt"/>
<line x1="215.2" y1="213.25" x2="218" y2="213.25" stroke="#000" stroke-width="0.6" stroke-linecap="butt"/>
<rect x="223.7" y="214.95" width="9.4" height="1.3" fill="#3a3a3a"/>
<line x1="226.52" y1="214.75" x2="230.28" y2="214.75" stroke="#333" stroke-width="0.5" stroke-linecap="butt"/>
<rect x="261.5" y="215.05" width="9.4" height="1.2" fill="#3a3a3a"/>
<line x1="264.32" y1="214.85" x2="268.08" y2="214.85" stroke="#333" stroke-width="0.5" stroke-linecap="butt"/>
<rect x="287.6" y="215.25" width="9.4" height="1" fill="#000"/>
<line x1="292.3" y1="215.25" x2="292.3" y2="214.65" stroke="#000" stroke-width="0.6" stroke-linecap="butt"/>
<line x1="290.9" y1="214.65" x2="293.7" y2="214.65" stroke="#000" stroke-width="0.6" stroke-linecap="butt"/>
<rect x="299.4" y="215.15" width="9.4" height="1.1" fill="#3a3a3a"/>
<line x1="302.22" y1="214.95" x2="305.98" y2="214.95" stroke="#333" stroke-width="0.5" stroke-linecap="butt"/>
<rect x="248.8" y="130.5" width="9.3" height="85.75" fill="#000"/>
<line x1="253.4" y1="130.5" x2="253.4" y2="122.6" stroke="#000" stroke-width="0.7" stroke-linecap="butt"/>
<line x1="250.5" y1="122.6" x2="256.3" y2="122.6" stroke="#000" stroke-width="0.7" stroke-linecap="butt"/>
<rect x="173.2" y="109.2" width="12" height="2.4" fill="#000"/>
<rect x="173.5" y="117.2" width="11.4" height="2.1" fill="#999" stroke="#222" stroke-width="0.6"/>
<text x="191.9" y="112.68" font-size="6.1" text-anchor="start" fill="#1a1a1a" stroke="#1a1a1a" stroke-width="0.16">PR-104A</text>
<text x="191.9" y="120.48" font-size="6.1" text-anchor="start" fill="#1a1a1a" stroke="#1a1a1a" stroke-width="0.16">CP-506</text>
<text x="132.8" y="165.54" font-size="7.65" text-anchor="middle" fill="#1a1a1a" stroke="#1a1a1a" stroke-width="0.16" transform="rotate(-90 132.8 162.8)">Fold change in IC<tspan font-size="5.1" baseline-shift="-1.2">50</tspan> value</text>
<text x="143.8" y="165.88" font-size="7.5" text-anchor="middle" fill="#1a1a1a" stroke="#1a1a1a" stroke-width="0.16" transform="rotate(-90 143.8 163.2)">compared to parental</text>
<text x="243.5" y="241.91" font-size="7.3" text-anchor="middle" fill="#1a1a1a" stroke="#1a1a1a" stroke-width="0.16">HCT116 AKR1C clone</text>
<text x="325.6" y="106.47" font-size="12.5" text-anchor="start" fill="#000" stroke="#000" stroke-width="0.16" font-weight="bold">D</text>
<line x1="362.75" y1="217.4" x2="362.75" y2="109.1" stroke="#000" stroke-width="0.8" stroke-linecap="butt"/>
<line x1="358.75" y1="217" x2="362.75" y2="217" stroke="#000" stroke-width="0.8" stroke-linecap="butt"/>
<text x="357.15" y="219.43" font-size="6.8" text-anchor="end" fill="#1a1a1a" stroke="#1a1a1a" stroke-width="0.16">0</text>
<line x1="358.75" y1="192.5" x2="362.75" y2="192.5" stroke="#000" stroke-width="0.8" stroke-linecap="butt"/>
<text x="357.15" y="194.93" font-size="6.8" text-anchor="end" fill="#1a1a1a" stroke="#1a1a1a" stroke-width="0.16">500</text>
<line x1="358.75" y1="168" x2="362.75" y2="168" stroke="#000" stroke-width="0.8" stroke-linecap="butt"/>
<text x="357.15" y="170.43" font-size="6.8" text-anchor="end" fill="#1a1a1a" stroke="#1a1a1a" stroke-width="0.16">1,000</text>
<line x1="358.75" y1="143.5" x2="362.75" y2="143.5" stroke="#000" stroke-width="0.8" stroke-linecap="butt"/>
<text x="357.15" y="145.93" font-size="6.8" text-anchor="end" fill="#1a1a1a" stroke="#1a1a1a" stroke-width="0.16">1,500</text>
<line x1="358.75" y1="119" x2="362.75" y2="119" stroke="#000" stroke-width="0.8" stroke-linecap="butt"/>
<text x="357.15" y="121.43" font-size="6.8" text-anchor="end" fill="#1a1a1a" stroke="#1a1a1a" stroke-width="0.16">2,000</text>
<line x1="362.35" y1="217" x2="498.15" y2="217" stroke="#000" stroke-width="0.8" stroke-linecap="butt"/>
<line x1="362.75" y1="217" x2="362.75" y2="221" stroke="#000" stroke-width="0.8" stroke-linecap="butt"/>
<text x="362.75" y="229.32" font-size="6.75" text-anchor="middle" fill="#1a1a1a" stroke="#1a1a1a" stroke-width="0.16">0</text>
<line x1="389.75" y1="217" x2="389.75" y2="221" stroke="#000" stroke-width="0.8" stroke-linecap="butt"/>
<text x="389.75" y="229.32" font-size="6.75" text-anchor="middle" fill="#1a1a1a" stroke="#1a1a1a" stroke-width="0.16">5</text>
<line x1="416.75" y1="217" x2="416.75" y2="221" stroke="#000" stroke-width="0.8" stroke-linecap="butt"/>
<text x="416.75" y="229.32" font-size="6.75" text-anchor="middle" fill="#1a1a1a" stroke="#1a1a1a" stroke-width="0.16">10</text>
<line x1="443.75" y1="217" x2="443.75" y2="221" stroke="#000" stroke-width="0.8" stroke-linecap="butt"/>
<text x="443.75" y="229.32" font-size="6.75" text-anchor="middle" fill="#1a1a1a" stroke="#1a1a1a" stroke-width="0.16">15</text>
<line x1="470.75" y1="217" x2="470.75" y2="221" stroke="#000" stroke-width="0.8" stroke-linecap="butt"/>
<text x="470.75" y="229.32" font-size="6.75" text-anchor="middle" fill="#1a1a1a" stroke="#1a1a1a" stroke-width="0.16">20</text>
<line x1="497.75" y1="217" x2="497.75" y2="221" stroke="#000" stroke-width="0.8" stroke-linecap="butt"/>
<text x="497.75" y="229.32" font-size="6.75" text-anchor="middle" fill="#1a1a1a" stroke="#1a1a1a" stroke-width="0.16">25</text>
<polyline points="368.15,203.28 378.95,193.97 389.75,184.66 400.55,173.88 411.35,164.08 422.15,152.81 432.95,136.64" fill="none" stroke="#000" stroke-width="0.9" stroke-linejoin="round" stroke-dasharray="1.4 1.6"/>
<line x1="378.95" y1="193.97" x2="378.95" y2="192.01" stroke="#000" stroke-width="0.7" stroke-linecap="butt"/>
<line x1="376.85" y1="192.01" x2="381.05" y2="192.01" stroke="#000" stroke-width="0.7" stroke-linecap="butt"/>
<line x1="389.75" y1="184.66" x2="389.75" y2="181.23" stroke="#000" stroke-width="0.7" stroke-linecap="butt"/>
<line x1="387.65" y1="181.23" x2="391.85" y2="181.23" stroke="#000" stroke-width="0.7" stroke-linecap="butt"/>
<line x1="400.55" y1="173.88" x2="400.55" y2="169.96" stroke="#000" stroke-width="0.7" stroke-linecap="butt"/>
<line x1="398.45" y1="169.96" x2="402.65" y2="169.96" stroke="#000" stroke-width="0.7" stroke-linecap="butt"/>
<line x1="411.35" y1="164.08" x2="411.35" y2="159.67" stroke="#000" stroke-width="0.7" stroke-linecap="butt"/>
<line x1="409.25" y1="159.67" x2="413.45" y2="159.67" stroke="#000" stroke-width="0.7" stroke-linecap="butt"/>
<line x1="422.15" y1="152.81" x2="422.15" y2="147.42" stroke="#000" stroke-width="0.7" stroke-linecap="butt"/>
<line x1="420.05" y1="147.42" x2="424.25" y2="147.42" stroke="#000" stroke-width="0.7" stroke-linecap="butt"/>
<line x1="432.95" y1="136.64" x2="432.95" y2="130.76" stroke="#000" stroke-width="0.7" stroke-linecap="butt"/>
<line x1="430.85" y1="130.76" x2="435.05" y2="130.76" stroke="#000" stroke-width="0.7" stroke-linecap="butt"/>
<circle cx="378.95" cy="193.97" r="1.7" fill="#fff" stroke="#000" stroke-width="0.7"/>
<circle cx="389.75" cy="184.66" r="1.7" fill="#fff" stroke="#000" stroke-width="0.7"/>
<circle cx="400.55" cy="173.88" r="1.7" fill="#fff" stroke="#000" stroke-width="0.7"/>
<circle cx="411.35" cy="164.08" r="1.7" fill="#fff" stroke="#000" stroke-width="0.7"/>
<circle cx="422.15" cy="152.81" r="1.7" fill="#fff" stroke="#000" stroke-width="0.7"/>
<circle cx="432.95" cy="136.64" r="1.7" fill="#fff" stroke="#000" stroke-width="0.7"/>
<polyline points="368.15,203.28 378.95,195.78 389.75,189.9 400.55,192.5 411.35,201.81 422.15,208.28 432.95,212.1 443.75,213.96 454.55,215.53 465.35,216.31 476.15,216.8 486.95,216.9" fill="none" stroke="#000" stroke-width="0.75" stroke-linejoin="round"/>
<rect x="366.55" y="201.68" width="3.2" height="3.2" fill="#000" stroke="#000" stroke-width="0.3"/>
<rect x="377.35" y="194.18" width="3.2" height="3.2" fill="#000" stroke="#000" stroke-width="0.3"/>
<line x1="389.75" y1="189.9" x2="389.75" y2="186.96" stroke="#000" stroke-width="0.7" stroke-linecap="butt"/>
<line x1="387.65" y1="186.96" x2="391.85" y2="186.96" stroke="#000" stroke-width="0.7" stroke-linecap="butt"/>
<rect x="388.15" y="188.3" width="3.2" height="3.2" fill="#000" stroke="#000" stroke-width="0.3"/>
<line x1="400.55" y1="192.5" x2="400.55" y2="190.05" stroke="#000" stroke-width="0.7" stroke-linecap="butt"/>
<line x1="398.45" y1="190.05" x2="402.65" y2="190.05" stroke="#000" stroke-width="0.7" stroke-linecap="butt"/>
<rect x="398.95" y="190.9" width="3.2" height="3.2" fill="#000" stroke="#000" stroke-width="0.3"/>
<rect x="409.75" y="200.21" width="3.2" height="3.2" fill="#000" stroke="#000" stroke-width="0.3"/>
<rect x="420.55" y="206.68" width="3.2" height="3.2" fill="#000" stroke="#000" stroke-width="0.3"/>
<rect x="431.35" y="210.5" width="3.2" height="3.2" fill="#000" stroke="#000" stroke-width="0.3"/>
<rect x="442.15" y="212.36" width="3.2" height="3.2" fill="#000" stroke="#000" stroke-width="0.3"/>
<rect x="452.95" y="213.93" width="3.2" height="3.2" fill="#000" stroke="#000" stroke-width="0.3"/>
<rect x="463.75" y="214.71" width="3.2" height="3.2" fill="#000" stroke="#000" stroke-width="0.3"/>
<rect x="474.55" y="215.2" width="3.2" height="3.2" fill="#000" stroke="#000" stroke-width="0.3"/>
<rect x="485.35" y="215.3" width="3.2" height="3.2" fill="#000" stroke="#000" stroke-width="0.3"/>
<polyline points="368.15,203.28 378.95,191.76 389.75,180.99 400.55,168.49 411.35,156.24 422.15,141.54 432.95,126.35" fill="none" stroke="#000" stroke-width="0.75" stroke-linejoin="round"/>
<circle cx="368.15" cy="203.28" r="1.75" fill="#000" stroke="#000" stroke-width="0.7"/>
<line x1="378.95" y1="191.76" x2="378.95" y2="189.31" stroke="#000" stroke-width="0.7" stroke-linecap="butt"/>
<line x1="376.85" y1="189.31" x2="381.05" y2="189.31" stroke="#000" stroke-width="0.7" stroke-linecap="butt"/>
<circle cx="378.95" cy="191.76" r="1.75" fill="#000" stroke="#000" stroke-width="0.7"/>
<line x1="389.75" y1="180.99" x2="389.75" y2="176.57" stroke="#000" stroke-width="0.7" stroke-linecap="butt"/>
<line x1="387.65" y1="176.57" x2="391.85" y2="176.57" stroke="#000" stroke-width="0.7" stroke-linecap="butt"/>
<circle cx="389.75" cy="180.99" r="1.75" fill="#000" stroke="#000" stroke-width="0.7"/>
<line x1="400.55" y1="168.49" x2="400.55" y2="161.63" stroke="#000" stroke-width="0.7" stroke-linecap="butt"/>
<line x1="398.45" y1="161.63" x2="402.65" y2="161.63" stroke="#000" stroke-width="0.7" stroke-linecap="butt"/>
<circle cx="400.55" cy="168.49" r="1.75" fill="#000" stroke="#000" stroke-width="0.7"/>
<line x1="411.35" y1="156.24" x2="411.35" y2="147.91" stroke="#000" stroke-width="0.7" stroke-linecap="butt"/>
<line x1="409.25" y1="147.91" x2="413.45" y2="147.91" stroke="#000" stroke-width="0.7" stroke-linecap="butt"/>
<circle cx="411.35" cy="156.24" r="1.75" fill="#000" stroke="#000" stroke-width="0.7"/>
<line x1="422.15" y1="141.54" x2="422.15" y2="130.76" stroke="#000" stroke-width="0.7" stroke-linecap="butt"/>
<line x1="420.05" y1="130.76" x2="424.25" y2="130.76" stroke="#000" stroke-width="0.7" stroke-linecap="butt"/>
<circle cx="422.15" cy="141.54" r="1.75" fill="#000" stroke="#000" stroke-width="0.7"/>
<line x1="432.95" y1="126.35" x2="432.95" y2="115.08" stroke="#000" stroke-width="0.7" stroke-linecap="butt"/>
<line x1="430.85" y1="115.08" x2="435.05" y2="115.08" stroke="#000" stroke-width="0.7" stroke-linecap="butt"/>
<circle cx="432.95" cy="126.35" r="1.75" fill="#000" stroke="#000" stroke-width="0.7"/>
<line x1="371.8" y1="112.1" x2="382.6" y2="112.1" stroke="#000" stroke-width="0.75" stroke-linecap="butt"/>
<circle cx="377.2" cy="112.1" r="1.55" fill="#000" stroke="#000" stroke-width="0.7"/>
<text x="390.8" y="114.14" font-size="5.7" text-anchor="start" fill="#1a1a1a" stroke="#1a1a1a" stroke-width="0.16">Vehicle</text>
<line x1="371.8" y1="120.4" x2="382.6" y2="120.4" stroke="#000" stroke-width="0.75" stroke-linecap="butt"/>
<rect x="375.75" y="118.95" width="2.9" height="2.9" fill="#000" stroke="#000" stroke-width="0.3"/>
<text x="390.8" y="122.44" font-size="5.7" text-anchor="start" fill="#1a1a1a" stroke="#1a1a1a" stroke-width="0.16">PR-104</text>
<line x1="371.8" y1="129.1" x2="382.6" y2="129.1" stroke="#000" stroke-width="0.9" stroke-linecap="butt" stroke-dasharray="1.4 1.6"/>
<circle cx="377.2" cy="129.1" r="1.65" fill="#fff" stroke="#000" stroke-width="0.7"/>
<text x="390.8" y="131.14" font-size="5.7" text-anchor="start" fill="#1a1a1a" stroke="#1a1a1a" stroke-width="0.16">CP-506</text>
<text x="332.6" y="164.59" font-size="7.5" text-anchor="middle" fill="#1a1a1a" stroke="#1a1a1a" stroke-width="0.16" transform="rotate(-90 332.6 161.9)">Tumor volume&#160; (mm<tspan font-size="4.65" baseline-shift="2.85">3</tspan>)</text>
<text x="430.4" y="241.49" font-size="7.8" text-anchor="middle" fill="#1a1a1a" stroke="#1a1a1a" stroke-width="0.16">Days after start treatment</text>
<rect x="454.3" y="110.5" width="35.8" height="30.4" fill="url(#wtg)"/>
<rect x="454.3" y="143.5" width="35.8" height="30.5" fill="#c56a28"/>
<rect x="454.3" y="143.5" width="35.8" height="30.5" fill="#c56a28" filter="url(#ihc)"/>
<text x="494" y="127.59" font-size="6.4" text-anchor="start" fill="#1a1a1a" stroke="#1a1a1a" stroke-width="0.16">WT</text>
<text x="493" y="160.29" font-size="6.4" text-anchor="start" fill="#1a1a1a" stroke="#1a1a1a" stroke-width="0.16">AKR1C3</text>
<text x="0.5" y="267.38" font-size="12.5" text-anchor="start" fill="#000" stroke="#000" stroke-width="0.16" font-weight="bold">E</text>
<line x1="37.5" y1="377.5" x2="37.5" y2="268.7" stroke="#000" stroke-width="0.8" stroke-linecap="butt"/>
<line x1="33.5" y1="377.1" x2="37.5" y2="377.1" stroke="#000" stroke-width="0.8" stroke-linecap="butt"/>
<text x="31.9" y="379.52" font-size="6.75" text-anchor="end" fill="#1a1a1a" stroke="#1a1a1a" stroke-width="0.16">1</text>
<line x1="33.5" y1="341.1" x2="37.5" y2="341.1" stroke="#000" stroke-width="0.8" stroke-linecap="butt"/>
<text x="31.9" y="343.52" font-size="6.75" text-anchor="end" fill="#1a1a1a" stroke="#1a1a1a" stroke-width="0.16">10</text>
<line x1="33.5" y1="305.1" x2="37.5" y2="305.1" stroke="#000" stroke-width="0.8" stroke-linecap="butt"/>
<text x="31.9" y="307.52" font-size="6.75" text-anchor="end" fill="#1a1a1a" stroke="#1a1a1a" stroke-width="0.16">100</text>
<line x1="33.5" y1="269.1" x2="37.5" y2="269.1" stroke="#000" stroke-width="0.8" stroke-linecap="butt"/>
<text x="31.9" y="271.52" font-size="6.75" text-anchor="end" fill="#1a1a1a" stroke="#1a1a1a" stroke-width="0.16">1,000</text>
<line x1="37.1" y1="377.1" x2="196.3" y2="377.1" stroke="#000" stroke-width="0.8" stroke-linecap="butt"/>
<line x1="49.6" y1="377.1" x2="49.6" y2="380.8" stroke="#000" stroke-width="0.8" stroke-linecap="butt"/>
<text x="49.3" y="388.55" font-size="6" text-anchor="middle" fill="#1a1a1a" stroke="#1a1a1a" stroke-width="0.16">WT</text>
<line x1="76.2" y1="377.1" x2="76.2" y2="380.8" stroke="#000" stroke-width="0.8" stroke-linecap="butt"/>
<text x="75.9" y="388.55" font-size="6" text-anchor="middle" fill="#1a1a1a" stroke="#1a1a1a" stroke-width="0.16">POR</text>
<line x1="102.8" y1="377.1" x2="102.8" y2="380.8" stroke="#000" stroke-width="0.8" stroke-linecap="butt"/>
<text x="102.5" y="388.55" font-size="6" text-anchor="middle" fill="#1a1a1a" stroke="#1a1a1a" stroke-width="0.16">MTRR</text>
<line x1="129.4" y1="377.1" x2="129.4" y2="380.8" stroke="#000" stroke-width="0.8" stroke-linecap="butt"/>
<text x="129.1" y="388.55" font-size="6" text-anchor="middle" fill="#1a1a1a" stroke="#1a1a1a" stroke-width="0.16">NDOR1</text>
<line x1="156" y1="377.1" x2="156" y2="380.8" stroke="#000" stroke-width="0.8" stroke-linecap="butt"/>
<text x="155.7" y="388.55" font-size="6" text-anchor="middle" fill="#1a1a1a" stroke="#1a1a1a" stroke-width="0.16">NOS2A</text>
<line x1="182.6" y1="377.1" x2="182.6" y2="380.8" stroke="#000" stroke-width="0.8" stroke-linecap="butt"/>
<text x="182.3" y="388.55" font-size="6" text-anchor="middle" fill="#1a1a1a" stroke="#1a1a1a" stroke-width="0.16">NOS3</text>
<rect x="41" y="293.8" width="6.8" height="83.3" fill="#000"/>
<line x1="44.4" y1="293.8" x2="44.4" y2="291.2" stroke="#000" stroke-width="0.65" stroke-linecap="butt"/>
<line x1="42.7" y1="291.2" x2="46.1" y2="291.2" stroke="#000" stroke-width="0.65" stroke-linecap="butt"/>
<rect x="51.55" y="341.45" width="6.3" height="35.65" fill="#a3a3a3" stroke="#303030" stroke-width="0.55"/>
<line x1="54.7" y1="341.2" x2="54.7" y2="338.7" stroke="#000" stroke-width="0.65" stroke-linecap="butt"/>
<line x1="53" y1="338.7" x2="56.4" y2="338.7" stroke="#000" stroke-width="0.65" stroke-linecap="butt"/>
<rect x="67.6" y="295" width="6.8" height="82.1" fill="#000"/>
<line x1="71" y1="295" x2="71" y2="290.8" stroke="#000" stroke-width="0.65" stroke-linecap="butt"/>
<line x1="69.3" y1="290.8" x2="72.7" y2="290.8" stroke="#000" stroke-width="0.65" stroke-linecap="butt"/>
<rect x="78.15" y="369.05" width="6.3" height="8.05" fill="#a3a3a3" stroke="#303030" stroke-width="0.55"/>
<line x1="81.3" y1="368.8" x2="81.3" y2="368.2" stroke="#000" stroke-width="0.65" stroke-linecap="butt"/>
<line x1="79.6" y1="368.2" x2="83" y2="368.2" stroke="#000" stroke-width="0.65" stroke-linecap="butt"/>
<text x="81.1" y="359.38" font-size="5.8" text-anchor="middle" fill="#1a1a1a" stroke="#1a1a1a" stroke-width="0.16">*</text>
<rect x="94.2" y="295" width="6.8" height="82.1" fill="#000"/>
<line x1="97.6" y1="295" x2="97.6" y2="290" stroke="#000" stroke-width="0.65" stroke-linecap="butt"/>
<line x1="95.9" y1="290" x2="99.3" y2="290" stroke="#000" stroke-width="0.65" stroke-linecap="butt"/>
<rect x="104.75" y="367.85" width="6.3" height="9.25" fill="#a3a3a3" stroke="#303030" stroke-width="0.55"/>
<line x1="107.9" y1="367.6" x2="107.9" y2="365" stroke="#000" stroke-width="0.65" stroke-linecap="butt"/>
<line x1="106.2" y1="365" x2="109.6" y2="365" stroke="#000" stroke-width="0.65" stroke-linecap="butt"/>
<text x="107.7" y="359.38" font-size="5.8" text-anchor="middle" fill="#1a1a1a" stroke="#1a1a1a" stroke-width="0.16">*</text>
<rect x="120.8" y="296.3" width="6.8" height="80.8" fill="#000"/>
<line x1="124.2" y1="296.3" x2="124.2" y2="294.3" stroke="#000" stroke-width="0.65" stroke-linecap="butt"/>
<line x1="122.5" y1="294.3" x2="125.9" y2="294.3" stroke="#000" stroke-width="0.65" stroke-linecap="butt"/>
<rect x="131.35" y="353.85" width="6.3" height="23.25" fill="#a3a3a3" stroke="#303030" stroke-width="0.55"/>
<line x1="134.5" y1="353.6" x2="134.5" y2="350.4" stroke="#000" stroke-width="0.65" stroke-linecap="butt"/>
<line x1="132.8" y1="350.4" x2="136.2" y2="350.4" stroke="#000" stroke-width="0.65" stroke-linecap="butt"/>
<text x="134.3" y="344.88" font-size="5.8" text-anchor="middle" fill="#1a1a1a" stroke="#1a1a1a" stroke-width="0.16">*</text>
<rect x="147.4" y="293" width="6.8" height="84.1" fill="#000"/>
<line x1="150.8" y1="293" x2="150.8" y2="289.3" stroke="#000" stroke-width="0.65" stroke-linecap="butt"/>
<line x1="149.1" y1="289.3" x2="152.5" y2="289.3" stroke="#000" stroke-width="0.65" stroke-linecap="butt"/>
<rect x="157.95" y="358.25" width="6.3" height="18.85" fill="#a3a3a3" stroke="#303030" stroke-width="0.55"/>
<line x1="161.1" y1="358" x2="161.1" y2="352.5" stroke="#000" stroke-width="0.65" stroke-linecap="butt"/>
<line x1="159.4" y1="352.5" x2="162.8" y2="352.5" stroke="#000" stroke-width="0.65" stroke-linecap="butt"/>
<text x="160.9" y="344.88" font-size="5.8" text-anchor="middle" fill="#1a1a1a" stroke="#1a1a1a" stroke-width="0.16">*</text>
<rect x="174" y="297" width="6.8" height="80.1" fill="#000"/>
<line x1="177.4" y1="297" x2="177.4" y2="292.5" stroke="#000" stroke-width="0.65" stroke-linecap="butt"/>
<line x1="175.7" y1="292.5" x2="179.1" y2="292.5" stroke="#000" stroke-width="0.65" stroke-linecap="butt"/>
<rect x="184.55" y="347.75" width="6.3" height="29.35" fill="#a3a3a3" stroke="#303030" stroke-width="0.55"/>
<line x1="187.7" y1="347.5" x2="187.7" y2="343.6" stroke="#000" stroke-width="0.65" stroke-linecap="butt"/>
<line x1="186" y1="343.6" x2="189.4" y2="343.6" stroke="#000" stroke-width="0.65" stroke-linecap="butt"/>
<rect x="45.3" y="268.9" width="11.7" height="2.4" fill="#000"/>
<rect x="45.6" y="276.5" width="11.1" height="2.1" fill="#9a9a9a" stroke="#2a2a2a" stroke-width="0.6"/>
<text x="63.9" y="272.32" font-size="6.2" text-anchor="start" fill="#1a1a1a" stroke="#1a1a1a" stroke-width="0.16">Normoxia</text>
<text x="63.9" y="279.92" font-size="6.2" text-anchor="start" fill="#1a1a1a" stroke="#1a1a1a" stroke-width="0.16">Anoxia</text>
<text x="7.8" y="323.71" font-size="7.85" text-anchor="middle" fill="#1a1a1a" stroke="#1a1a1a" stroke-width="0.16" transform="rotate(-90 7.8 320.9)">IC<tspan font-size="5.1" baseline-shift="-1.2">50</tspan> value (&#956;mol/L)</text>
<text x="115.5" y="401.99" font-size="7.5" text-anchor="middle" fill="#1a1a1a" stroke="#1a1a1a" stroke-width="0.16">HCT116 oxidoreductase clone</text>
<text x="204.2" y="267.38" font-size="12.5" text-anchor="start" fill="#000" stroke="#000" stroke-width="0.16" font-weight="bold">F</text>
<line x1="240.2" y1="377.9" x2="240.2" y2="269.1" stroke="#000" stroke-width="0.8" stroke-linecap="butt"/>
<line x1="236.2" y1="377.5" x2="240.2" y2="377.5" stroke="#000" stroke-width="0.8" stroke-linecap="butt"/>
<text x="234.6" y="379.92" font-size="6.75" text-anchor="end" fill="#1a1a1a" stroke="#1a1a1a" stroke-width="0.16">0.001</text>
<line x1="236.2" y1="350.5" x2="240.2" y2="350.5" stroke="#000" stroke-width="0.8" stroke-linecap="butt"/>
<text x="234.6" y="352.92" font-size="6.75" text-anchor="end" fill="#1a1a1a" stroke="#1a1a1a" stroke-width="0.16">0.01</text>
<line x1="236.2" y1="323.5" x2="240.2" y2="323.5" stroke="#000" stroke-width="0.8" stroke-linecap="butt"/>
<text x="234.6" y="325.92" font-size="6.75" text-anchor="end" fill="#1a1a1a" stroke="#1a1a1a" stroke-width="0.16">0.1</text>
<line x1="236.2" y1="296.5" x2="240.2" y2="296.5" stroke="#000" stroke-width="0.8" stroke-linecap="butt"/>
<text x="234.6" y="298.92" font-size="6.75" text-anchor="end" fill="#1a1a1a" stroke="#1a1a1a" stroke-width="0.16">1</text>
<line x1="236.2" y1="269.5" x2="240.2" y2="269.5" stroke="#000" stroke-width="0.8" stroke-linecap="butt"/>
<text x="234.6" y="271.92" font-size="6.75" text-anchor="end" fill="#1a1a1a" stroke="#1a1a1a" stroke-width="0.16">10</text>
<line x1="239.8" y1="377.5" x2="330.84" y2="377.5" stroke="#000" stroke-width="0.8" stroke-linecap="butt"/>
<line x1="240.2" y1="377.5" x2="240.2" y2="381.5" stroke="#000" stroke-width="0.8" stroke-linecap="butt"/>
<text x="240.2" y="390.12" font-size="6.75" text-anchor="middle" fill="#1a1a1a" stroke="#1a1a1a" stroke-width="0.16">0</text>
<line x1="262.76" y1="377.5" x2="262.76" y2="381.5" stroke="#000" stroke-width="0.8" stroke-linecap="butt"/>
<text x="262.76" y="390.12" font-size="6.75" text-anchor="middle" fill="#1a1a1a" stroke="#1a1a1a" stroke-width="0.16">30</text>
<line x1="285.32" y1="377.5" x2="285.32" y2="381.5" stroke="#000" stroke-width="0.8" stroke-linecap="butt"/>
<text x="285.32" y="390.12" font-size="6.75" text-anchor="middle" fill="#1a1a1a" stroke="#1a1a1a" stroke-width="0.16">60</text>
<line x1="307.88" y1="377.5" x2="307.88" y2="381.5" stroke="#000" stroke-width="0.8" stroke-linecap="butt"/>
<text x="307.88" y="390.12" font-size="6.75" text-anchor="middle" fill="#1a1a1a" stroke="#1a1a1a" stroke-width="0.16">90</text>
<line x1="330.44" y1="377.5" x2="330.44" y2="381.5" stroke="#000" stroke-width="0.8" stroke-linecap="butt"/>
<text x="330.44" y="390.12" font-size="6.75" text-anchor="middle" fill="#1a1a1a" stroke="#1a1a1a" stroke-width="0.16">120</text>
<polyline points="240.2,296.98 247.72,301.37 262.76,323.5 315.4,352.83" fill="none" stroke="#000" stroke-width="0.9" stroke-linejoin="round" stroke-dasharray="1.5 1.4"/>
<line x1="247.72" y1="298.41" x2="247.72" y2="304.63" stroke="#000" stroke-width="0.7" stroke-linecap="butt"/>
<line x1="246.02" y1="298.41" x2="249.42" y2="298.41" stroke="#000" stroke-width="0.7" stroke-linecap="butt"/>
<line x1="246.02" y1="304.63" x2="249.42" y2="304.63" stroke="#000" stroke-width="0.7" stroke-linecap="butt"/>
<circle cx="247.72" cy="301.37" r="1.6" fill="#fff" stroke="#000" stroke-width="0.7"/>
<line x1="262.76" y1="319.55" x2="262.76" y2="327.68" stroke="#000" stroke-width="0.7" stroke-linecap="butt"/>
<line x1="261.06" y1="319.55" x2="264.46" y2="319.55" stroke="#000" stroke-width="0.7" stroke-linecap="butt"/>
<line x1="261.06" y1="327.68" x2="264.46" y2="327.68" stroke="#000" stroke-width="0.7" stroke-linecap="butt"/>
<circle cx="262.76" cy="323.5" r="1.6" fill="#fff" stroke="#000" stroke-width="0.7"/>
<line x1="315.4" y1="349.38" x2="315.4" y2="356.49" stroke="#000" stroke-width="0.7" stroke-linecap="butt"/>
<line x1="313.7" y1="349.38" x2="317.1" y2="349.38" stroke="#000" stroke-width="0.7" stroke-linecap="butt"/>
<line x1="313.7" y1="356.49" x2="317.1" y2="356.49" stroke="#000" stroke-width="0.7" stroke-linecap="butt"/>
<circle cx="315.4" cy="352.83" r="1.6" fill="#fff" stroke="#000" stroke-width="0.7"/>
<polyline points="240.2,296.98 247.72,300.03 262.76,298.13 315.4,295.93" fill="none" stroke="#000" stroke-width="0.75" stroke-linejoin="round"/>
<circle cx="240.2" cy="296.98" r="2" fill="#000" stroke="#000" stroke-width="0.7"/>
<line x1="247.72" y1="296.5" x2="247.72" y2="303.51" stroke="#000" stroke-width="0.7" stroke-linecap="butt"/>
<line x1="246.02" y1="296.5" x2="249.42" y2="296.5" stroke="#000" stroke-width="0.7" stroke-linecap="butt"/>
<line x1="246.02" y1="303.51" x2="249.42" y2="303.51" stroke="#000" stroke-width="0.7" stroke-linecap="butt"/>
<circle cx="247.72" cy="300.03" r="1.6" fill="#000" stroke="#000" stroke-width="0.7"/>
<line x1="262.76" y1="297.1" x2="262.76" y2="299.12" stroke="#000" stroke-width="0.7" stroke-linecap="butt"/>
<line x1="261.06" y1="297.1" x2="264.46" y2="297.1" stroke="#000" stroke-width="0.7" stroke-linecap="butt"/>
<line x1="261.06" y1="299.12" x2="264.46" y2="299.12" stroke="#000" stroke-width="0.7" stroke-linecap="butt"/>
<circle cx="262.76" cy="298.13" r="1.6" fill="#000" stroke="#000" stroke-width="0.7"/>
<line x1="315.4" y1="292.98" x2="315.4" y2="299.12" stroke="#000" stroke-width="0.7" stroke-linecap="butt"/>
<line x1="313.7" y1="292.98" x2="317.1" y2="292.98" stroke="#000" stroke-width="0.7" stroke-linecap="butt"/>
<line x1="313.7" y1="299.12" x2="317.1" y2="299.12" stroke="#000" stroke-width="0.7" stroke-linecap="butt"/>
<circle cx="315.4" cy="295.93" r="1.6" fill="#000" stroke="#000" stroke-width="0.7"/>
<circle cx="251.8" cy="271" r="1.6" fill="#000" stroke="#000" stroke-width="0.7"/>
<circle cx="251.8" cy="279.9" r="1.6" fill="#fff" stroke="#000" stroke-width="0.7"/>
<text x="265.2" y="273.2" font-size="6.15" text-anchor="start" fill="#1a1a1a" stroke="#1a1a1a" stroke-width="0.16">Hyperoxic</text>
<text x="265.2" y="282.1" font-size="6.15" text-anchor="start" fill="#1a1a1a" stroke="#1a1a1a" stroke-width="0.16">Anoxic</text>
<text x="209.6" y="327.29" font-size="7.5" text-anchor="middle" fill="#1a1a1a" stroke="#1a1a1a" stroke-width="0.16" transform="rotate(-90 209.6 324.6)">Relative cell survival</text>
<text x="288.4" y="401.56" font-size="7.7" text-anchor="middle" fill="#1a1a1a" stroke="#1a1a1a" stroke-width="0.16">CP-506 (&#956;mol/L)</text>
<text x="343.1" y="267.38" font-size="12.5" text-anchor="start" fill="#000" stroke="#000" stroke-width="0.16" font-weight="bold">G</text>
<line x1="372.5" y1="377.5" x2="372.5" y2="268.88" stroke="#000" stroke-width="0.8" stroke-linecap="butt"/>
<line x1="368.5" y1="377.1" x2="372.5" y2="377.1" stroke="#000" stroke-width="0.8" stroke-linecap="butt"/>
<text x="366.9" y="379.52" font-size="6.75" text-anchor="end" fill="#1a1a1a" stroke="#1a1a1a" stroke-width="0.16">0</text>
<line x1="368.5" y1="341.16" x2="372.5" y2="341.16" stroke="#000" stroke-width="0.8" stroke-linecap="butt"/>
<text x="366.9" y="343.58" font-size="6.75" text-anchor="end" fill="#1a1a1a" stroke="#1a1a1a" stroke-width="0.16">20</text>
<line x1="368.5" y1="305.22" x2="372.5" y2="305.22" stroke="#000" stroke-width="0.8" stroke-linecap="butt"/>
<text x="366.9" y="307.64" font-size="6.75" text-anchor="end" fill="#1a1a1a" stroke="#1a1a1a" stroke-width="0.16">40</text>
<line x1="368.5" y1="269.28" x2="372.5" y2="269.28" stroke="#000" stroke-width="0.8" stroke-linecap="butt"/>
<text x="366.9" y="271.7" font-size="6.75" text-anchor="end" fill="#1a1a1a" stroke="#1a1a1a" stroke-width="0.16">60</text>
<line x1="372.1" y1="377.1" x2="484.8" y2="377.1" stroke="#000" stroke-width="0.8" stroke-linecap="butt"/>
<line x1="372.5" y1="377.1" x2="372.5" y2="381.1" stroke="#000" stroke-width="0.8" stroke-linecap="butt"/>
<text x="372.5" y="390.02" font-size="6.75" text-anchor="middle" fill="#1a1a1a" stroke="#1a1a1a" stroke-width="0.16">0</text>
<line x1="409.8" y1="377.1" x2="409.8" y2="381.1" stroke="#000" stroke-width="0.8" stroke-linecap="butt"/>
<text x="409.8" y="390.02" font-size="6.75" text-anchor="middle" fill="#1a1a1a" stroke="#1a1a1a" stroke-width="0.16">10</text>
<line x1="447.1" y1="377.1" x2="447.1" y2="381.1" stroke="#000" stroke-width="0.8" stroke-linecap="butt"/>
<text x="447.1" y="390.02" font-size="6.75" text-anchor="middle" fill="#1a1a1a" stroke="#1a1a1a" stroke-width="0.16">20</text>
<line x1="484.4" y1="377.1" x2="484.4" y2="381.1" stroke="#000" stroke-width="0.8" stroke-linecap="butt"/>
<text x="484.4" y="390.02" font-size="6.75" text-anchor="middle" fill="#1a1a1a" stroke="#1a1a1a" stroke-width="0.16">30</text>
<polyline points="413.53,350.86 424.72,346.19 432.18,347.45 443.37,341.88 450.83,331.1 465.75,322.83 476.94,314.03" fill="none" stroke="#000" stroke-width="0.9" stroke-linejoin="round" stroke-dasharray="1.4 1.7"/>
<rect x="422.92" y="344.39" width="3.6" height="3.6" fill="#fff" stroke="#000" stroke-width="0.7"/>
<line x1="432.18" y1="347.45" x2="432.18" y2="343.14" stroke="#000" stroke-width="0.75" stroke-linecap="butt"/>
<line x1="429.78" y1="343.14" x2="434.58" y2="343.14" stroke="#000" stroke-width="0.75" stroke-linecap="butt"/>
<rect x="430.38" y="345.65" width="3.6" height="3.6" fill="#fff" stroke="#000" stroke-width="0.7"/>
<line x1="443.37" y1="341.88" x2="443.37" y2="336.49" stroke="#000" stroke-width="0.75" stroke-linecap="butt"/>
<line x1="440.97" y1="336.49" x2="445.77" y2="336.49" stroke="#000" stroke-width="0.75" stroke-linecap="butt"/>
<rect x="441.57" y="340.08" width="3.6" height="3.6" fill="#fff" stroke="#000" stroke-width="0.7"/>
<line x1="450.83" y1="331.1" x2="450.83" y2="323.01" stroke="#000" stroke-width="0.75" stroke-linecap="butt"/>
<line x1="448.43" y1="323.01" x2="453.23" y2="323.01" stroke="#000" stroke-width="0.75" stroke-linecap="butt"/>
<rect x="449.03" y="329.3" width="3.6" height="3.6" fill="#fff" stroke="#000" stroke-width="0.7"/>
<line x1="465.75" y1="322.83" x2="465.75" y2="315.64" stroke="#000" stroke-width="0.75" stroke-linecap="butt"/>
<line x1="463.35" y1="315.64" x2="468.15" y2="315.64" stroke="#000" stroke-width="0.75" stroke-linecap="butt"/>
<rect x="463.95" y="321.03" width="3.6" height="3.6" fill="#fff" stroke="#000" stroke-width="0.7"/>
<line x1="476.94" y1="314.03" x2="476.94" y2="304.5" stroke="#000" stroke-width="0.75" stroke-linecap="butt"/>
<line x1="474.54" y1="304.5" x2="479.34" y2="304.5" stroke="#000" stroke-width="0.75" stroke-linecap="butt"/>
<rect x="475.14" y="312.23" width="3.6" height="3.6" fill="#fff" stroke="#000" stroke-width="0.7"/>
<polyline points="387.42,375.3 398.61,369.91 406.07,364.88 413.53,355.9 424.72,340.8 432.18,330.74 443.37,317.44" fill="none" stroke="#000" stroke-width="0.9" stroke-linejoin="round" stroke-dasharray="1.4 1.7"/>
<circle cx="398.61" cy="369.91" r="1.8" fill="#fff" stroke="#000" stroke-width="0.7"/>
<circle cx="406.07" cy="364.88" r="1.8" fill="#fff" stroke="#000" stroke-width="0.7"/>
<circle cx="413.53" cy="355.9" r="1.8" fill="#fff" stroke="#000" stroke-width="0.7"/>
<line x1="424.72" y1="340.8" x2="424.72" y2="336.31" stroke="#000" stroke-width="0.75" stroke-linecap="butt"/>
<line x1="422.32" y1="336.31" x2="427.12" y2="336.31" stroke="#000" stroke-width="0.75" stroke-linecap="butt"/>
<circle cx="424.72" cy="340.8" r="1.8" fill="#fff" stroke="#000" stroke-width="0.7"/>
<line x1="432.18" y1="330.74" x2="432.18" y2="325.35" stroke="#000" stroke-width="0.75" stroke-linecap="butt"/>
<line x1="429.78" y1="325.35" x2="434.58" y2="325.35" stroke="#000" stroke-width="0.75" stroke-linecap="butt"/>
<circle cx="432.18" cy="330.74" r="1.8" fill="#fff" stroke="#000" stroke-width="0.7"/>
<line x1="443.37" y1="317.44" x2="443.37" y2="311.15" stroke="#000" stroke-width="0.75" stroke-linecap="butt"/>
<line x1="440.97" y1="311.15" x2="445.77" y2="311.15" stroke="#000" stroke-width="0.75" stroke-linecap="butt"/>
<circle cx="443.37" cy="317.44" r="1.8" fill="#fff" stroke="#000" stroke-width="0.7"/>
<polyline points="387.42,375.3 398.61,367.58 406.07,359.13 413.53,350.86 424.72,333.97 432.18,326.78 443.37,313.31 450.83,302.7" fill="none" stroke="#000" stroke-width="0.75" stroke-linejoin="round"/>
<circle cx="387.42" cy="375.3" r="1.75" fill="#000" stroke="#000" stroke-width="0.7"/>
<circle cx="398.61" cy="367.58" r="1.75" fill="#000" stroke="#000" stroke-width="0.7"/>
<circle cx="406.07" cy="359.13" r="1.75" fill="#000" stroke="#000" stroke-width="0.7"/>
<line x1="413.53" y1="350.86" x2="413.53" y2="348.17" stroke="#000" stroke-width="0.75" stroke-linecap="butt"/>
<line x1="411.13" y1="348.17" x2="415.93" y2="348.17" stroke="#000" stroke-width="0.75" stroke-linecap="butt"/>
<circle cx="413.53" cy="350.86" r="1.75" fill="#000" stroke="#000" stroke-width="0.7"/>
<line x1="424.72" y1="333.97" x2="424.72" y2="328.58" stroke="#000" stroke-width="0.75" stroke-linecap="butt"/>
<line x1="422.32" y1="328.58" x2="427.12" y2="328.58" stroke="#000" stroke-width="0.75" stroke-linecap="butt"/>
<circle cx="424.72" cy="333.97" r="1.75" fill="#000" stroke="#000" stroke-width="0.7"/>
<line x1="432.18" y1="326.78" x2="432.18" y2="320.49" stroke="#000" stroke-width="0.75" stroke-linecap="butt"/>
<line x1="429.78" y1="320.49" x2="434.58" y2="320.49" stroke="#000" stroke-width="0.75" stroke-linecap="butt"/>
<circle cx="432.18" cy="326.78" r="1.75" fill="#000" stroke="#000" stroke-width="0.7"/>
<line x1="443.37" y1="313.31" x2="443.37" y2="305.22" stroke="#000" stroke-width="0.75" stroke-linecap="butt"/>
<line x1="440.97" y1="305.22" x2="445.77" y2="305.22" stroke="#000" stroke-width="0.75" stroke-linecap="butt"/>
<circle cx="443.37" cy="313.31" r="1.75" fill="#000" stroke="#000" stroke-width="0.7"/>
<line x1="450.83" y1="302.7" x2="450.83" y2="293.72" stroke="#000" stroke-width="0.75" stroke-linecap="butt"/>
<line x1="448.43" y1="293.72" x2="453.23" y2="293.72" stroke="#000" stroke-width="0.75" stroke-linecap="butt"/>
<circle cx="450.83" cy="302.7" r="1.75" fill="#000" stroke="#000" stroke-width="0.7"/>
<polyline points="387.42,375.3 398.61,367.58 406.07,359.13 413.53,347.81 424.72,327.14 432.18,316.36 443.37,303.42 450.83,289.59" fill="none" stroke="#000" stroke-width="0.75" stroke-linejoin="round"/>
<rect x="385.52" y="373.4" width="3.8" height="3.8" fill="#000" stroke="#000" stroke-width="0.2"/>
<rect x="396.71" y="365.68" width="3.8" height="3.8" fill="#000" stroke="#000" stroke-width="0.2"/>
<rect x="404.17" y="357.23" width="3.8" height="3.8" fill="#000" stroke="#000" stroke-width="0.2"/>
<line x1="413.53" y1="347.81" x2="413.53" y2="344.21" stroke="#000" stroke-width="0.75" stroke-linecap="butt"/>
<line x1="411.13" y1="344.21" x2="415.93" y2="344.21" stroke="#000" stroke-width="0.75" stroke-linecap="butt"/>
<rect x="411.63" y="345.91" width="3.8" height="3.8" fill="#000" stroke="#000" stroke-width="0.2"/>
<line x1="424.72" y1="327.14" x2="424.72" y2="320.31" stroke="#000" stroke-width="0.75" stroke-linecap="butt"/>
<line x1="422.32" y1="320.31" x2="427.12" y2="320.31" stroke="#000" stroke-width="0.75" stroke-linecap="butt"/>
<rect x="422.82" y="325.24" width="3.8" height="3.8" fill="#000" stroke="#000" stroke-width="0.2"/>
<line x1="432.18" y1="316.36" x2="432.18" y2="308.45" stroke="#000" stroke-width="0.75" stroke-linecap="butt"/>
<line x1="429.78" y1="308.45" x2="434.58" y2="308.45" stroke="#000" stroke-width="0.75" stroke-linecap="butt"/>
<rect x="430.28" y="314.46" width="3.8" height="3.8" fill="#000" stroke="#000" stroke-width="0.2"/>
<line x1="443.37" y1="303.42" x2="443.37" y2="293.36" stroke="#000" stroke-width="0.75" stroke-linecap="butt"/>
<line x1="440.97" y1="293.36" x2="445.77" y2="293.36" stroke="#000" stroke-width="0.75" stroke-linecap="butt"/>
<rect x="441.47" y="301.52" width="3.8" height="3.8" fill="#000" stroke="#000" stroke-width="0.2"/>
<line x1="450.83" y1="289.59" x2="450.83" y2="277.01" stroke="#000" stroke-width="0.75" stroke-linecap="butt"/>
<line x1="448.43" y1="277.01" x2="453.23" y2="277.01" stroke="#000" stroke-width="0.75" stroke-linecap="butt"/>
<rect x="448.93" y="287.69" width="3.8" height="3.8" fill="#000" stroke="#000" stroke-width="0.2"/>
<line x1="377.5" y1="270" x2="388.8" y2="270" stroke="#000" stroke-width="0.75" stroke-linecap="butt"/>
<circle cx="383.1" cy="270" r="1.5" fill="#000" stroke="#000" stroke-width="0.7"/>
<text x="396.3" y="272.11" font-size="5.9" text-anchor="start" fill="#1a1a1a" stroke="#1a1a1a" stroke-width="0.16">D4 - vehicle</text>
<line x1="377.5" y1="279.6" x2="388.8" y2="279.6" stroke="#000" stroke-width="0.75" stroke-linecap="butt"/>
<rect x="381.65" y="278.15" width="2.9" height="2.9" fill="#000" stroke="#000" stroke-width="0.3"/>
<text x="396.3" y="281.71" font-size="5.9" text-anchor="start" fill="#1a1a1a" stroke="#1a1a1a" stroke-width="0.16">D11 - vehicle</text>
<line x1="377.5" y1="288.5" x2="388.8" y2="288.5" stroke="#000" stroke-width="0.9" stroke-linecap="butt" stroke-dasharray="1.4 1.7"/>
<circle cx="383.1" cy="288.5" r="1.7" fill="#fff" stroke="#000" stroke-width="0.7"/>
<text x="396.3" y="290.61" font-size="5.9" text-anchor="start" fill="#1a1a1a" stroke="#1a1a1a" stroke-width="0.16">D4 - CP-506</text>
<line x1="377.5" y1="299" x2="388.8" y2="299" stroke="#000" stroke-width="0.9" stroke-linecap="butt" stroke-dasharray="1.4 1.7"/>
<rect x="381.5" y="297.4" width="3.2" height="3.2" fill="#fff" stroke="#000" stroke-width="0.7"/>
<text x="396.3" y="301.11" font-size="5.9" text-anchor="start" fill="#1a1a1a" stroke="#1a1a1a" stroke-width="0.16">D11 - CP-506</text>
<text x="351" y="326.54" font-size="7.65" text-anchor="middle" fill="#1a1a1a" stroke="#1a1a1a" stroke-width="0.16" transform="rotate(-90 351 323.8)">Relative spheroid volume</text>
<text x="430.5" y="401.56" font-size="7.7" text-anchor="middle" fill="#1a1a1a" stroke="#1a1a1a" stroke-width="0.16">Days after seeding</text>
</svg>
</body>
</html>
